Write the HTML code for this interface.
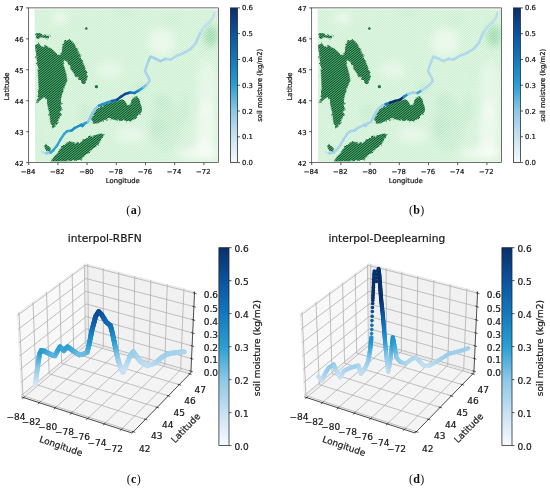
<!DOCTYPE html>
<html><head><meta charset="utf-8"><title>Figure</title><style>html,body{margin:0;padding:0;background:#fff}svg{display:block}</style></head><body>
<svg width="550" height="489" viewBox="0 0 550 489" font-family="DejaVu Sans, Liberation Sans, sans-serif" fill="#1a1a1a" stroke="#1a1a1a" stroke-width="0">
<defs>
<linearGradient id="cbg" x1="0" y1="1" x2="0" y2="0"><stop offset="0.0000" stop-color="#f7fbff"/><stop offset="0.1667" stop-color="#c8e1f2"/><stop offset="0.3333" stop-color="#8cc8e8"/><stop offset="0.5000" stop-color="#2b9fd3"/><stop offset="0.6667" stop-color="#1478be"/><stop offset="0.8333" stop-color="#0b539f"/><stop offset="1.0000" stop-color="#08306b"/></linearGradient>
<g id="hatchL" stroke="#ffffff" stroke-width="0.72" opacity="0.88"><path d="M80.70 -93.57L302.62 41.89M79.91 -92.28L301.83 43.18M79.12 -91.00L301.05 44.47M78.34 -89.71L300.26 45.76M77.55 -88.42L299.47 47.04M76.76 -87.13L298.69 48.33M75.98 -85.84L297.90 49.62M75.19 -84.55L297.11 50.91M74.40 -83.26L296.33 52.20M73.62 -81.97L295.54 53.49M72.83 -80.68L294.75 54.78M72.04 -79.40L293.97 56.07M71.26 -78.11L293.18 57.36M70.47 -76.82L292.39 58.64M69.68 -75.53L291.61 59.93M68.90 -74.24L290.82 61.22M68.11 -72.95L290.03 62.51M67.32 -71.66L289.25 63.80M66.54 -70.37L288.46 65.09M65.75 -69.08L287.67 66.38M64.96 -67.80L286.89 67.67M64.18 -66.51L286.10 68.96M63.39 -65.22L285.31 70.24M62.60 -63.93L284.53 71.53M61.82 -62.64L283.74 72.82M61.03 -61.35L282.95 74.11M60.24 -60.06L282.17 75.40M59.46 -58.77L281.38 76.69M58.67 -57.49L280.59 77.98M57.88 -56.20L279.80 79.27M57.09 -54.91L279.02 80.55M56.31 -53.62L278.23 81.84M55.52 -52.33L277.44 83.13M54.73 -51.04L276.66 84.42M53.95 -49.75L275.87 85.71M53.16 -48.46L275.08 87.00M52.37 -47.17L274.30 88.29M51.59 -45.89L273.51 89.58M50.80 -44.60L272.72 90.87M50.01 -43.31L271.94 92.15M49.23 -42.02L271.15 93.44M48.44 -40.73L270.36 94.73M47.65 -39.44L269.58 96.02M46.87 -38.15L268.79 97.31M46.08 -36.86L268.00 98.60M45.29 -35.57L267.22 99.89M44.51 -34.29L266.43 101.18M43.72 -33.00L265.64 102.47M42.93 -31.71L264.86 103.75M42.15 -30.42L264.07 105.04M41.36 -29.13L263.28 106.33M40.57 -27.84L262.50 107.62M39.79 -26.55L261.71 108.91M39.00 -25.26L260.92 110.20M38.21 -23.97L260.14 111.49M37.43 -22.69L259.35 112.78M36.64 -21.40L258.56 114.07M35.85 -20.11L257.78 115.35M35.07 -18.82L256.99 116.64M34.28 -17.53L256.20 117.93M33.49 -16.24L255.42 119.22M32.71 -14.95L254.63 120.51M31.92 -13.66L253.84 121.80M31.13 -12.38L253.06 123.09M30.35 -11.09L252.27 124.38M29.56 -9.80L251.48 125.67M28.77 -8.51L250.70 126.95M27.99 -7.22L249.91 128.24M27.20 -5.93L249.12 129.53M26.41 -4.64L248.34 130.82M25.63 -3.35L247.55 132.11M24.84 -2.06L246.76 133.40M24.05 -0.78L245.98 134.69M23.27 0.51L245.19 135.98M22.48 1.80L244.40 137.26M21.69 3.09L243.62 138.55M20.91 4.38L242.83 139.84M20.12 5.67L242.04 141.13M19.33 6.96L241.26 142.42M18.55 8.25L240.47 143.71M17.76 9.54L239.68 145.00M16.97 10.82L238.90 146.29M16.19 12.11L238.11 147.58M15.40 13.40L237.32 148.86M14.61 14.69L236.54 150.15M13.83 15.98L235.75 151.44M13.04 17.27L234.96 152.73M12.25 18.56L234.17 154.02M11.46 19.85L233.39 155.31M10.68 21.14L232.60 156.60M9.89 22.42L231.81 157.89M9.10 23.71L231.03 159.18M8.32 25.00L230.24 160.46M7.53 26.29L229.45 161.75M6.74 27.58L228.67 163.04M5.96 28.87L227.88 164.33M5.17 30.16L227.09 165.62M4.38 31.45L226.31 166.91M3.60 32.74L225.52 168.20M2.81 34.02L224.73 169.49M2.02 35.31L223.95 170.78M1.24 36.60L223.16 172.06M0.45 37.89L222.37 173.35M-0.34 39.18L221.59 174.64M-1.12 40.47L220.80 175.93M-1.91 41.76L220.01 177.22M-2.70 43.05L219.23 178.51M-3.48 44.33L218.44 179.80M-4.27 45.62L217.65 181.09M-5.06 46.91L216.87 182.38M-5.84 48.20L216.08 183.66M-6.63 49.49L215.29 184.95M-7.42 50.78L214.51 186.24M-8.20 52.07L213.72 187.53M-8.99 53.36L212.93 188.82M-9.78 54.65L212.15 190.11M-10.56 55.93L211.36 191.40M-11.35 57.22L210.57 192.69M-12.14 58.51L209.79 193.97M-12.92 59.80L209.00 195.26M-13.71 61.09L208.21 196.55M-14.50 62.38L207.43 197.84M-15.28 63.67L206.64 199.13M-16.07 64.96L205.85 200.42M-16.86 66.25L205.07 201.71M-17.64 67.53L204.28 203.00M-18.43 68.82L203.49 204.29M-19.22 70.11L202.71 205.57M-20.00 71.40L201.92 206.86M-20.79 72.69L201.13 208.15M-21.58 73.98L200.35 209.44M-22.36 75.27L199.56 210.73M-23.15 76.56L198.77 212.02M-23.94 77.85L197.99 213.31M-24.72 79.13L197.20 214.60M-25.51 80.42L196.41 215.89M-26.30 81.71L195.63 217.17M-27.08 83.00L194.84 218.46M-27.87 84.29L194.05 219.75M-28.66 85.58L193.27 221.04M-29.44 86.87L192.48 222.33M-30.23 88.16L191.69 223.62M-31.02 89.45L190.91 224.91M-31.80 90.73L190.12 226.20M-32.59 92.02L189.33 227.49M-33.38 93.31L188.54 228.77M-34.17 94.60L187.76 230.06M-34.95 95.89L186.97 231.35M-35.74 97.18L186.18 232.64M-36.53 98.47L185.40 233.93M-37.31 99.76L184.61 235.22M-38.10 101.04L183.82 236.51M-38.89 102.33L183.04 237.80M-39.67 103.62L182.25 239.08M-40.46 104.91L181.46 240.37M-41.25 106.20L180.68 241.66M-42.03 107.49L179.89 242.95M-42.82 108.78L179.10 244.24M-43.61 110.07L178.32 245.53M-44.39 111.36L177.53 246.82M-45.18 112.64L176.74 248.11M-45.97 113.93L175.96 249.40M-46.75 115.22L175.17 250.68M-47.54 116.51L174.38 251.97M-48.33 117.80L173.60 253.26M-49.11 119.09L172.81 254.55M-49.90 120.38L172.02 255.84M-50.69 121.67L171.24 257.13M-51.47 122.96L170.45 258.42M-52.26 124.24L169.66 259.71M-53.05 125.53L168.88 261.00M-53.83 126.82L168.09 262.28M-54.62 128.11L167.30 263.57" fill="none"/></g>
<g id="hatchD" stroke="#043d18" stroke-width="0.9" opacity="1"><path d="M80.70 -93.57L302.62 41.89M79.91 -92.28L301.83 43.18M79.12 -91.00L301.05 44.47M78.34 -89.71L300.26 45.76M77.55 -88.42L299.47 47.04M76.76 -87.13L298.69 48.33M75.98 -85.84L297.90 49.62M75.19 -84.55L297.11 50.91M74.40 -83.26L296.33 52.20M73.62 -81.97L295.54 53.49M72.83 -80.68L294.75 54.78M72.04 -79.40L293.97 56.07M71.26 -78.11L293.18 57.36M70.47 -76.82L292.39 58.64M69.68 -75.53L291.61 59.93M68.90 -74.24L290.82 61.22M68.11 -72.95L290.03 62.51M67.32 -71.66L289.25 63.80M66.54 -70.37L288.46 65.09M65.75 -69.08L287.67 66.38M64.96 -67.80L286.89 67.67M64.18 -66.51L286.10 68.96M63.39 -65.22L285.31 70.24M62.60 -63.93L284.53 71.53M61.82 -62.64L283.74 72.82M61.03 -61.35L282.95 74.11M60.24 -60.06L282.17 75.40M59.46 -58.77L281.38 76.69M58.67 -57.49L280.59 77.98M57.88 -56.20L279.80 79.27M57.09 -54.91L279.02 80.55M56.31 -53.62L278.23 81.84M55.52 -52.33L277.44 83.13M54.73 -51.04L276.66 84.42M53.95 -49.75L275.87 85.71M53.16 -48.46L275.08 87.00M52.37 -47.17L274.30 88.29M51.59 -45.89L273.51 89.58M50.80 -44.60L272.72 90.87M50.01 -43.31L271.94 92.15M49.23 -42.02L271.15 93.44M48.44 -40.73L270.36 94.73M47.65 -39.44L269.58 96.02M46.87 -38.15L268.79 97.31M46.08 -36.86L268.00 98.60M45.29 -35.57L267.22 99.89M44.51 -34.29L266.43 101.18M43.72 -33.00L265.64 102.47M42.93 -31.71L264.86 103.75M42.15 -30.42L264.07 105.04M41.36 -29.13L263.28 106.33M40.57 -27.84L262.50 107.62M39.79 -26.55L261.71 108.91M39.00 -25.26L260.92 110.20M38.21 -23.97L260.14 111.49M37.43 -22.69L259.35 112.78M36.64 -21.40L258.56 114.07M35.85 -20.11L257.78 115.35M35.07 -18.82L256.99 116.64M34.28 -17.53L256.20 117.93M33.49 -16.24L255.42 119.22M32.71 -14.95L254.63 120.51M31.92 -13.66L253.84 121.80M31.13 -12.38L253.06 123.09M30.35 -11.09L252.27 124.38M29.56 -9.80L251.48 125.67M28.77 -8.51L250.70 126.95M27.99 -7.22L249.91 128.24M27.20 -5.93L249.12 129.53M26.41 -4.64L248.34 130.82M25.63 -3.35L247.55 132.11M24.84 -2.06L246.76 133.40M24.05 -0.78L245.98 134.69M23.27 0.51L245.19 135.98M22.48 1.80L244.40 137.26M21.69 3.09L243.62 138.55M20.91 4.38L242.83 139.84M20.12 5.67L242.04 141.13M19.33 6.96L241.26 142.42M18.55 8.25L240.47 143.71M17.76 9.54L239.68 145.00M16.97 10.82L238.90 146.29M16.19 12.11L238.11 147.58M15.40 13.40L237.32 148.86M14.61 14.69L236.54 150.15M13.83 15.98L235.75 151.44M13.04 17.27L234.96 152.73M12.25 18.56L234.17 154.02M11.46 19.85L233.39 155.31M10.68 21.14L232.60 156.60M9.89 22.42L231.81 157.89M9.10 23.71L231.03 159.18M8.32 25.00L230.24 160.46M7.53 26.29L229.45 161.75M6.74 27.58L228.67 163.04M5.96 28.87L227.88 164.33M5.17 30.16L227.09 165.62M4.38 31.45L226.31 166.91M3.60 32.74L225.52 168.20M2.81 34.02L224.73 169.49M2.02 35.31L223.95 170.78M1.24 36.60L223.16 172.06M0.45 37.89L222.37 173.35M-0.34 39.18L221.59 174.64M-1.12 40.47L220.80 175.93M-1.91 41.76L220.01 177.22M-2.70 43.05L219.23 178.51M-3.48 44.33L218.44 179.80M-4.27 45.62L217.65 181.09M-5.06 46.91L216.87 182.38M-5.84 48.20L216.08 183.66M-6.63 49.49L215.29 184.95M-7.42 50.78L214.51 186.24M-8.20 52.07L213.72 187.53M-8.99 53.36L212.93 188.82M-9.78 54.65L212.15 190.11M-10.56 55.93L211.36 191.40M-11.35 57.22L210.57 192.69M-12.14 58.51L209.79 193.97M-12.92 59.80L209.00 195.26M-13.71 61.09L208.21 196.55M-14.50 62.38L207.43 197.84M-15.28 63.67L206.64 199.13M-16.07 64.96L205.85 200.42M-16.86 66.25L205.07 201.71M-17.64 67.53L204.28 203.00M-18.43 68.82L203.49 204.29M-19.22 70.11L202.71 205.57M-20.00 71.40L201.92 206.86M-20.79 72.69L201.13 208.15M-21.58 73.98L200.35 209.44M-22.36 75.27L199.56 210.73M-23.15 76.56L198.77 212.02M-23.94 77.85L197.99 213.31M-24.72 79.13L197.20 214.60M-25.51 80.42L196.41 215.89M-26.30 81.71L195.63 217.17M-27.08 83.00L194.84 218.46M-27.87 84.29L194.05 219.75M-28.66 85.58L193.27 221.04M-29.44 86.87L192.48 222.33M-30.23 88.16L191.69 223.62M-31.02 89.45L190.91 224.91M-31.80 90.73L190.12 226.20M-32.59 92.02L189.33 227.49M-33.38 93.31L188.54 228.77M-34.17 94.60L187.76 230.06M-34.95 95.89L186.97 231.35M-35.74 97.18L186.18 232.64M-36.53 98.47L185.40 233.93M-37.31 99.76L184.61 235.22M-38.10 101.04L183.82 236.51M-38.89 102.33L183.04 237.80M-39.67 103.62L182.25 239.08M-40.46 104.91L181.46 240.37M-41.25 106.20L180.68 241.66M-42.03 107.49L179.89 242.95M-42.82 108.78L179.10 244.24M-43.61 110.07L178.32 245.53M-44.39 111.36L177.53 246.82M-45.18 112.64L176.74 248.11M-45.97 113.93L175.96 249.40M-46.75 115.22L175.17 250.68M-47.54 116.51L174.38 251.97M-48.33 117.80L173.60 253.26M-49.11 119.09L172.81 254.55M-49.90 120.38L172.02 255.84M-50.69 121.67L171.24 257.13M-51.47 122.96L170.45 258.42M-52.26 124.24L169.66 259.71M-53.05 125.53L168.88 261.00M-53.83 126.82L168.09 262.28M-54.62 128.11L167.30 263.57" fill="none"/></g>
<filter id="rough" x="0" y="0" width="100%" height="100%" filterUnits="objectBoundingBox"><feTurbulence type="fractalNoise" baseFrequency="0.35" numOctaves="2" seed="7" result="n"/><feDisplacementMap in="SourceGraphic" in2="n" scale="3.2" xChannelSelector="R" yChannelSelector="G"/></filter>
<filter id="blur4" x="-50%" y="-50%" width="200%" height="200%"><feGaussianBlur stdDeviation="3.5"/></filter>
</defs>
<rect width="550" height="489" fill="#fff"/>
<g transform="translate(0,0)">
<clipPath id="clipa"><rect x="28.70" y="7.90" width="189.80" height="154.70"/></clipPath>
<g clip-path="url(#clipa)">
<clipPath id="dra"><polygon points="34.7,9.4 217.9,9.4 217.9,161.6 35.3,161.6"/></clipPath>
<g clip-path="url(#dra)">
<rect x="30" y="8" width="190" height="155" fill="#c2edc8"/>
<g filter="url(#blur4)">
<ellipse cx="211" cy="36" rx="7" ry="11" fill="#6fc98a" opacity="0.85"/>
<ellipse cx="124" cy="13" rx="11" ry="4.5" fill="#b5e6bd" opacity="0.8"/>
<ellipse cx="162" cy="42" rx="14" ry="14" fill="#f4fbf3" opacity="0.55"/>
<ellipse cx="207" cy="90" rx="10" ry="30" fill="#f0faef" opacity="0.5"/>
<ellipse cx="75" cy="25" rx="10" ry="8" fill="#c0eac8" opacity="0.7"/>
<ellipse cx="140" cy="88" rx="7" ry="5" fill="#a5dfb2" opacity="0.7"/>
<ellipse cx="180" cy="140" rx="25" ry="12" fill="#c8ecce" opacity="0.6"/>
<ellipse cx="205" cy="150" rx="12" ry="10" fill="#f4fbf3" opacity="0.6"/>
<ellipse cx="60" cy="18" rx="8" ry="6" fill="#e8f7e8" opacity="0.8"/>
<ellipse cx="110" cy="70" rx="12" ry="8" fill="#e4f6e4" opacity="0.7"/>
<ellipse cx="40" cy="140" rx="5" ry="15" fill="#c0eac8" opacity="0.7"/>
<ellipse cx="150" cy="125" rx="10" ry="25" fill="#c5ebcb" opacity="0.6"/>
<ellipse cx="190" cy="70" rx="6" ry="10" fill="#bfe9c6" opacity="0.6"/>
<ellipse cx="130" cy="135" rx="15" ry="8" fill="#e4f6e4" opacity="0.7"/>
<ellipse cx="206" cy="128" rx="10" ry="28" fill="#f6fcf5" opacity="0.6"/>
<ellipse cx="198" cy="154" rx="22" ry="6" fill="#f6fcf5" opacity="0.6"/>
<ellipse cx="158" cy="128" rx="7" ry="9" fill="#9fddb0" opacity="0.7"/>
<ellipse cx="184.5" cy="108" rx="1.6" ry="15" fill="#93d8a7" opacity="0.8"/>
<ellipse cx="160" cy="100" rx="9" ry="7" fill="#a8e0b6" opacity="0.6"/>
<ellipse cx="172" cy="20" rx="10" ry="7" fill="#b4e6bf" opacity="0.5"/>
<ellipse cx="165" cy="125" rx="16" ry="26" fill="#a5e0b3" opacity="0.5"/>
<ellipse cx="85" cy="113" rx="7" ry="10" fill="#a5e0b3" opacity="0.5"/>
</g>
<use href="#hatchL"/>
<mask id="lka" maskUnits="userSpaceOnUse" x="28" y="7" width="192" height="157"><g filter="url(#rough)"><polygon points="35.3,45.3 38.9,43.5 41.6,47.1 45.3,45.3 48.0,47.1 51.6,48.9 55.3,52.5 58.9,55.3 61.6,54.4 62.5,47.1 64.4,41.6 68.0,39.8 72.5,41.6 76.2,47.1 78.9,52.5 81.6,59.8 84.4,66.2 86.2,71.6 87.1,77.1 86.2,82.5 82.5,83.5 78.9,79.8 75.3,75.3 71.6,69.8 68.9,65.3 67.1,60.7 64.4,59.8 62.5,62.5 64.4,68.0 66.2,74.4 67.1,80.7 65.3,84.5 62.5,91.8 60.7,99.1 61.6,106.4 60.7,113.6 58.0,120.9 55.3,126.4 52.5,128.2 50.7,122.7 49.8,115.5 48.0,106.4 46.2,99.1 43.5,97.3 38.9,100.9 36.6,103.2 37.6,98.0 39.0,91.0 38.6,82.0 38.0,70.5 37.2,62.0 36.5,55.0 35.6,49.0" fill="#fff" stroke="#fff" stroke-width="0.5"/><polygon points="35.6,33.8 38.9,33.1 42.5,34.4 46.2,34.9 50.2,36.2 49.8,38.0 45.3,38.0 40.7,37.1 38.0,38.9 35.6,37.1" fill="#fff" stroke="#fff" stroke-width="0.5"/><polygon points="50.7,161.6 54.4,156.4 58.0,152.7 61.6,147.3 65.3,143.6 69.8,141.8 75.3,142.7 79.8,143.6 82.5,140.0 88.0,137.3 95.3,135.5 100.7,133.6 103.5,134.5 102.5,138.2 99.8,141.8 96.2,145.5 92.5,149.1 88.9,152.7 84.4,155.5 82.5,159.1 77.1,160.5 64.4,161.6" fill="#fff" stroke="#fff" stroke-width="0.5"/><polygon points="90.9,120.9 92.4,116.5 95.3,111.8 98.9,107.6 102.5,105.4 106.9,103.9 112.0,102.3 117.1,101.2 122.2,99.6 125.1,101.5 127.3,105.6 130.2,104.9 131.6,101.3 133.8,97.6 136.7,96.2 138.9,99.1 140.4,103.5 141.8,108.5 141.1,112.2 138.2,115.8 134.5,118.7 131.6,121.6 128.7,121.6 124.4,120.2 119.3,120.9 114.2,119.5 109.8,118.7 105.5,119.5 101.1,121.6 96.7,123.1 93.1,123.5" fill="#fff" stroke="#fff" stroke-width="0.5"/><polygon points="44.4,145.5 46.2,144.2 48.0,146.4 50.7,148.2 49.8,151.5 47.1,150.9 45.3,148.7" fill="#fff" stroke="#fff" stroke-width="0.5"/></g></mask>
<g mask="url(#lka)"><rect x="28" y="7" width="192" height="157" fill="#5cc084"/><use href="#hatchD"/></g>
<circle cx="86.3" cy="28.5" r="1.3" fill="#157a3c"/>
<circle cx="96.4" cy="86.7" r="1.6" fill="#157a3c"/>
</g>
<line x1="42.5" y1="152.2" x2="46.2" y2="153.3" stroke="#bcdcf0" stroke-width="2.5" stroke-linecap="round"/>
<line x1="46.2" y1="153.3" x2="50.7" y2="152.7" stroke="#8cc8e8" stroke-width="2.5" stroke-linecap="round"/>
<line x1="50.7" y1="152.7" x2="53.5" y2="150.0" stroke="#35a3d5" stroke-width="2.5" stroke-linecap="round"/>
<line x1="53.5" y1="150.0" x2="57.1" y2="145.5" stroke="#35a3d5" stroke-width="2.5" stroke-linecap="round"/>
<line x1="57.1" y1="145.5" x2="60.7" y2="139.1" stroke="#35a3d5" stroke-width="2.5" stroke-linecap="round"/>
<line x1="60.7" y1="139.1" x2="64.4" y2="133.6" stroke="#35a3d5" stroke-width="2.5" stroke-linecap="round"/>
<line x1="64.4" y1="133.6" x2="67.1" y2="131.3" stroke="#35a3d5" stroke-width="2.5" stroke-linecap="round"/>
<line x1="67.1" y1="131.3" x2="71.6" y2="130.5" stroke="#35a3d5" stroke-width="2.5" stroke-linecap="round"/>
<line x1="71.6" y1="130.5" x2="74.4" y2="128.2" stroke="#208cc8" stroke-width="2.5" stroke-linecap="round"/>
<line x1="74.4" y1="128.2" x2="79.8" y2="125.5" stroke="#208cc8" stroke-width="2.5" stroke-linecap="round"/>
<line x1="79.8" y1="125.5" x2="81.6" y2="124.5" stroke="#208cc8" stroke-width="2.5" stroke-linecap="round"/>
<line x1="81.6" y1="124.5" x2="82.5" y2="126.0" stroke="#208cc8" stroke-width="2.5" stroke-linecap="round"/>
<line x1="82.5" y1="126.0" x2="84.4" y2="123.6" stroke="#208cc8" stroke-width="2.5" stroke-linecap="round"/>
<line x1="84.4" y1="123.6" x2="88.0" y2="121.8" stroke="#2b9fd3" stroke-width="2.5" stroke-linecap="round"/>
<line x1="88.0" y1="121.8" x2="90.2" y2="117.5" stroke="#8cc8e8" stroke-width="2.5" stroke-linecap="round"/>
<line x1="90.2" y1="117.5" x2="92.4" y2="112.8" stroke="#8cc8e8" stroke-width="2.5" stroke-linecap="round"/>
<line x1="92.4" y1="112.8" x2="95.3" y2="108.8" stroke="#8cc8e8" stroke-width="2.5" stroke-linecap="round"/>
<line x1="95.3" y1="108.8" x2="98.9" y2="105.6" stroke="#8cc8e8" stroke-width="2.5" stroke-linecap="round"/>
<line x1="98.9" y1="105.6" x2="102.5" y2="104.2" stroke="#2493cd" stroke-width="2.5" stroke-linecap="round"/>
<line x1="102.5" y1="104.2" x2="106.9" y2="102.7" stroke="#2493cd" stroke-width="2.5" stroke-linecap="round"/>
<line x1="106.9" y1="102.7" x2="112.0" y2="101.0" stroke="#2493cd" stroke-width="2.5" stroke-linecap="round"/>
<line x1="112.0" y1="101.0" x2="117.1" y2="99.8" stroke="#1066ae" stroke-width="2.5" stroke-linecap="round"/>
<line x1="117.1" y1="99.8" x2="120.7" y2="96.9" stroke="#0a488f" stroke-width="2.5" stroke-linecap="round"/>
<line x1="120.7" y1="96.9" x2="125.1" y2="94.0" stroke="#0a488f" stroke-width="2.5" stroke-linecap="round"/>
<line x1="125.1" y1="94.0" x2="130.2" y2="92.5" stroke="#0a488f" stroke-width="2.5" stroke-linecap="round"/>
<line x1="130.2" y1="92.5" x2="134.5" y2="93.0" stroke="#1478be" stroke-width="2.5" stroke-linecap="round"/>
<line x1="134.5" y1="93.0" x2="138.9" y2="90.4" stroke="#1478be" stroke-width="2.5" stroke-linecap="round"/>
<line x1="138.9" y1="90.4" x2="143.3" y2="87.5" stroke="#2b9fd3" stroke-width="2.5" stroke-linecap="round"/>
<line x1="143.3" y1="87.5" x2="146.9" y2="84.5" stroke="#79c0e4" stroke-width="2.5" stroke-linecap="round"/>
<line x1="146.9" y1="84.5" x2="149.8" y2="80.9" stroke="#aad4ed" stroke-width="2.5" stroke-linecap="round"/>
<line x1="149.8" y1="80.9" x2="148.4" y2="77.3" stroke="#aad4ed" stroke-width="2.5" stroke-linecap="round"/>
<line x1="148.4" y1="77.3" x2="146.2" y2="73.6" stroke="#aad4ed" stroke-width="2.5" stroke-linecap="round"/>
<line x1="146.2" y1="73.6" x2="145.0" y2="71.0" stroke="#aad4ed" stroke-width="2.5" stroke-linecap="round"/>
<line x1="145.0" y1="71.0" x2="146.5" y2="66.2" stroke="#aad4ed" stroke-width="2.5" stroke-linecap="round"/>
<line x1="146.5" y1="66.2" x2="148.7" y2="60.4" stroke="#aad4ed" stroke-width="2.5" stroke-linecap="round"/>
<line x1="148.7" y1="60.4" x2="150.5" y2="56.7" stroke="#9ed0eb" stroke-width="2.5" stroke-linecap="round"/>
<line x1="150.5" y1="56.7" x2="154.5" y2="58.2" stroke="#9ed0eb" stroke-width="2.5" stroke-linecap="round"/>
<line x1="154.5" y1="58.2" x2="160.4" y2="61.1" stroke="#9ed0eb" stroke-width="2.5" stroke-linecap="round"/>
<line x1="160.4" y1="61.1" x2="165.5" y2="58.9" stroke="#9ed0eb" stroke-width="2.5" stroke-linecap="round"/>
<line x1="165.5" y1="58.9" x2="170.5" y2="59.6" stroke="#b0d7ee" stroke-width="2.5" stroke-linecap="round"/>
<line x1="170.5" y1="59.6" x2="176.4" y2="56.0" stroke="#b0d7ee" stroke-width="2.5" stroke-linecap="round"/>
<line x1="176.4" y1="56.0" x2="183.6" y2="53.1" stroke="#b0d7ee" stroke-width="2.5" stroke-linecap="round"/>
<line x1="183.6" y1="53.1" x2="190.9" y2="48.7" stroke="#b0d7ee" stroke-width="2.5" stroke-linecap="round"/>
<line x1="190.9" y1="48.7" x2="196.0" y2="42.9" stroke="#b0d7ee" stroke-width="2.5" stroke-linecap="round"/>
<line x1="196.0" y1="42.9" x2="198.2" y2="37.1" stroke="#b0d7ee" stroke-width="2.5" stroke-linecap="round"/>
<line x1="198.2" y1="37.1" x2="201.1" y2="31.3" stroke="#b0d7ee" stroke-width="2.5" stroke-linecap="round"/>
<line x1="201.1" y1="31.3" x2="204.0" y2="26.9" stroke="#c2def1" stroke-width="2.5" stroke-linecap="round"/>
<line x1="204.0" y1="26.9" x2="209.1" y2="22.5" stroke="#c2def1" stroke-width="2.5" stroke-linecap="round"/>
<line x1="209.1" y1="22.5" x2="212.7" y2="18.2" stroke="#c2def1" stroke-width="2.5" stroke-linecap="round"/>
<line x1="212.7" y1="18.2" x2="214.5" y2="13.1" stroke="#c2def1" stroke-width="2.5" stroke-linecap="round"/>
</g>
<rect x="28.70" y="7.90" width="189.80" height="154.70" fill="none" stroke="#222" stroke-width="0.65"/>
<line x1="28.70" y1="162.60" x2="28.70" y2="165.10" stroke="#111" stroke-width="0.7"/>
<text stroke-width="0.22" x="28.10" y="173.80" font-size="6.85" text-anchor="middle" >−84</text>
<line x1="57.90" y1="162.60" x2="57.90" y2="165.10" stroke="#111" stroke-width="0.7"/>
<text stroke-width="0.22" x="57.30" y="173.80" font-size="6.85" text-anchor="middle" >−82</text>
<line x1="87.10" y1="162.60" x2="87.10" y2="165.10" stroke="#111" stroke-width="0.7"/>
<text stroke-width="0.22" x="86.50" y="173.80" font-size="6.85" text-anchor="middle" >−80</text>
<line x1="116.30" y1="162.60" x2="116.30" y2="165.10" stroke="#111" stroke-width="0.7"/>
<text stroke-width="0.22" x="115.70" y="173.80" font-size="6.85" text-anchor="middle" >−78</text>
<line x1="145.50" y1="162.60" x2="145.50" y2="165.10" stroke="#111" stroke-width="0.7"/>
<text stroke-width="0.22" x="144.90" y="173.80" font-size="6.85" text-anchor="middle" >−76</text>
<line x1="174.70" y1="162.60" x2="174.70" y2="165.10" stroke="#111" stroke-width="0.7"/>
<text stroke-width="0.22" x="174.10" y="173.80" font-size="6.85" text-anchor="middle" >−74</text>
<line x1="203.90" y1="162.60" x2="203.90" y2="165.10" stroke="#111" stroke-width="0.7"/>
<text stroke-width="0.22" x="203.30" y="173.80" font-size="6.85" text-anchor="middle" >−72</text>
<line x1="26.20" y1="162.60" x2="28.70" y2="162.60" stroke="#111" stroke-width="0.7"/>
<text stroke-width="0.22" x="23.50" y="165.63" font-size="6.85" text-anchor="end" >42</text>
<line x1="26.20" y1="131.66" x2="28.70" y2="131.66" stroke="#111" stroke-width="0.7"/>
<text stroke-width="0.22" x="23.50" y="134.69" font-size="6.85" text-anchor="end" >43</text>
<line x1="26.20" y1="100.72" x2="28.70" y2="100.72" stroke="#111" stroke-width="0.7"/>
<text stroke-width="0.22" x="23.50" y="103.75" font-size="6.85" text-anchor="end" >44</text>
<line x1="26.20" y1="69.78" x2="28.70" y2="69.78" stroke="#111" stroke-width="0.7"/>
<text stroke-width="0.22" x="23.50" y="72.81" font-size="6.85" text-anchor="end" >45</text>
<line x1="26.20" y1="38.84" x2="28.70" y2="38.84" stroke="#111" stroke-width="0.7"/>
<text stroke-width="0.22" x="23.50" y="41.87" font-size="6.85" text-anchor="end" >46</text>
<line x1="26.20" y1="7.90" x2="28.70" y2="7.90" stroke="#111" stroke-width="0.7"/>
<text stroke-width="0.22" x="23.50" y="10.93" font-size="6.85" text-anchor="end" >47</text>
<text stroke-width="0.22" x="122.80" y="182.70" font-size="6.85" text-anchor="middle" >Longitude</text>
<text stroke-width="0.22" x="9.40" y="86.55" font-size="6.85" text-anchor="middle" transform="rotate(-90 9.40 86.55)" >Latitude</text>
<rect x="230.40" y="7.90" width="7.10" height="154.70" fill="url(#cbg)" stroke="#222" stroke-width="0.75"/>
<line x1="237.50" y1="162.60" x2="240.00" y2="162.60" stroke="#111" stroke-width="0.7"/>
<text stroke-width="0.22" x="242.10" y="165.13" font-size="6.85" text-anchor="start" >0.0</text>
<line x1="237.50" y1="136.82" x2="240.00" y2="136.82" stroke="#111" stroke-width="0.7"/>
<text stroke-width="0.22" x="242.10" y="139.35" font-size="6.85" text-anchor="start" >0.1</text>
<line x1="237.50" y1="111.03" x2="240.00" y2="111.03" stroke="#111" stroke-width="0.7"/>
<text stroke-width="0.22" x="242.10" y="113.57" font-size="6.85" text-anchor="start" >0.2</text>
<line x1="237.50" y1="85.25" x2="240.00" y2="85.25" stroke="#111" stroke-width="0.7"/>
<text stroke-width="0.22" x="242.10" y="87.78" font-size="6.85" text-anchor="start" >0.3</text>
<line x1="237.50" y1="59.47" x2="240.00" y2="59.47" stroke="#111" stroke-width="0.7"/>
<text stroke-width="0.22" x="242.10" y="62.00" font-size="6.85" text-anchor="start" >0.4</text>
<line x1="237.50" y1="33.68" x2="240.00" y2="33.68" stroke="#111" stroke-width="0.7"/>
<text stroke-width="0.22" x="242.10" y="36.22" font-size="6.85" text-anchor="start" >0.5</text>
<line x1="237.50" y1="7.90" x2="240.00" y2="7.90" stroke="#111" stroke-width="0.7"/>
<text stroke-width="0.22" x="242.10" y="10.43" font-size="6.85" text-anchor="start" >0.6</text>
<text stroke-width="0.22" x="262.00" y="85.25" font-size="6.85" text-anchor="middle" transform="rotate(-90 262.00 85.25)" >soil moisture (kg/m2)</text>
</g>
<g transform="translate(283,0)">
<clipPath id="clipb"><rect x="28.70" y="7.90" width="189.80" height="154.70"/></clipPath>
<g clip-path="url(#clipb)">
<clipPath id="drb"><polygon points="34.7,9.4 217.9,9.4 217.9,161.6 35.3,161.6"/></clipPath>
<g clip-path="url(#drb)">
<rect x="30" y="8" width="190" height="155" fill="#c2edc8"/>
<g filter="url(#blur4)">
<ellipse cx="211" cy="36" rx="7" ry="11" fill="#6fc98a" opacity="0.85"/>
<ellipse cx="124" cy="13" rx="11" ry="4.5" fill="#b5e6bd" opacity="0.8"/>
<ellipse cx="162" cy="42" rx="14" ry="14" fill="#f4fbf3" opacity="0.55"/>
<ellipse cx="207" cy="90" rx="10" ry="30" fill="#f0faef" opacity="0.5"/>
<ellipse cx="75" cy="25" rx="10" ry="8" fill="#c0eac8" opacity="0.7"/>
<ellipse cx="140" cy="88" rx="7" ry="5" fill="#a5dfb2" opacity="0.7"/>
<ellipse cx="180" cy="140" rx="25" ry="12" fill="#c8ecce" opacity="0.6"/>
<ellipse cx="205" cy="150" rx="12" ry="10" fill="#f4fbf3" opacity="0.6"/>
<ellipse cx="60" cy="18" rx="8" ry="6" fill="#e8f7e8" opacity="0.8"/>
<ellipse cx="110" cy="70" rx="12" ry="8" fill="#e4f6e4" opacity="0.7"/>
<ellipse cx="40" cy="140" rx="5" ry="15" fill="#c0eac8" opacity="0.7"/>
<ellipse cx="150" cy="125" rx="10" ry="25" fill="#c5ebcb" opacity="0.6"/>
<ellipse cx="190" cy="70" rx="6" ry="10" fill="#bfe9c6" opacity="0.6"/>
<ellipse cx="130" cy="135" rx="15" ry="8" fill="#e4f6e4" opacity="0.7"/>
<ellipse cx="206" cy="128" rx="10" ry="28" fill="#f6fcf5" opacity="0.6"/>
<ellipse cx="198" cy="154" rx="22" ry="6" fill="#f6fcf5" opacity="0.6"/>
<ellipse cx="158" cy="128" rx="7" ry="9" fill="#9fddb0" opacity="0.7"/>
<ellipse cx="184.5" cy="108" rx="1.6" ry="15" fill="#93d8a7" opacity="0.8"/>
<ellipse cx="160" cy="100" rx="9" ry="7" fill="#a8e0b6" opacity="0.6"/>
<ellipse cx="172" cy="20" rx="10" ry="7" fill="#b4e6bf" opacity="0.5"/>
<ellipse cx="165" cy="125" rx="16" ry="26" fill="#a5e0b3" opacity="0.5"/>
<ellipse cx="85" cy="113" rx="7" ry="10" fill="#a5e0b3" opacity="0.5"/>
</g>
<use href="#hatchL"/>
<mask id="lkb" maskUnits="userSpaceOnUse" x="28" y="7" width="192" height="157"><g filter="url(#rough)"><polygon points="35.3,45.3 38.9,43.5 41.6,47.1 45.3,45.3 48.0,47.1 51.6,48.9 55.3,52.5 58.9,55.3 61.6,54.4 62.5,47.1 64.4,41.6 68.0,39.8 72.5,41.6 76.2,47.1 78.9,52.5 81.6,59.8 84.4,66.2 86.2,71.6 87.1,77.1 86.2,82.5 82.5,83.5 78.9,79.8 75.3,75.3 71.6,69.8 68.9,65.3 67.1,60.7 64.4,59.8 62.5,62.5 64.4,68.0 66.2,74.4 67.1,80.7 65.3,84.5 62.5,91.8 60.7,99.1 61.6,106.4 60.7,113.6 58.0,120.9 55.3,126.4 52.5,128.2 50.7,122.7 49.8,115.5 48.0,106.4 46.2,99.1 43.5,97.3 38.9,100.9 36.6,103.2 37.6,98.0 39.0,91.0 38.6,82.0 38.0,70.5 37.2,62.0 36.5,55.0 35.6,49.0" fill="#fff" stroke="#fff" stroke-width="0.5"/><polygon points="35.6,33.8 38.9,33.1 42.5,34.4 46.2,34.9 50.2,36.2 49.8,38.0 45.3,38.0 40.7,37.1 38.0,38.9 35.6,37.1" fill="#fff" stroke="#fff" stroke-width="0.5"/><polygon points="50.7,161.6 54.4,156.4 58.0,152.7 61.6,147.3 65.3,143.6 69.8,141.8 75.3,142.7 79.8,143.6 82.5,140.0 88.0,137.3 95.3,135.5 100.7,133.6 103.5,134.5 102.5,138.2 99.8,141.8 96.2,145.5 92.5,149.1 88.9,152.7 84.4,155.5 82.5,159.1 77.1,160.5 64.4,161.6" fill="#fff" stroke="#fff" stroke-width="0.5"/><polygon points="90.9,120.9 92.4,116.5 95.3,111.8 98.9,107.6 102.5,105.4 106.9,103.9 112.0,102.3 117.1,101.2 122.2,99.6 125.1,101.5 127.3,105.6 130.2,104.9 131.6,101.3 133.8,97.6 136.7,96.2 138.9,99.1 140.4,103.5 141.8,108.5 141.1,112.2 138.2,115.8 134.5,118.7 131.6,121.6 128.7,121.6 124.4,120.2 119.3,120.9 114.2,119.5 109.8,118.7 105.5,119.5 101.1,121.6 96.7,123.1 93.1,123.5" fill="#fff" stroke="#fff" stroke-width="0.5"/><polygon points="44.4,145.5 46.2,144.2 48.0,146.4 50.7,148.2 49.8,151.5 47.1,150.9 45.3,148.7" fill="#fff" stroke="#fff" stroke-width="0.5"/></g></mask>
<g mask="url(#lkb)"><rect x="28" y="7" width="192" height="157" fill="#5cc084"/><use href="#hatchD"/></g>
<circle cx="86.3" cy="28.5" r="1.3" fill="#157a3c"/>
<circle cx="96.4" cy="86.7" r="1.6" fill="#157a3c"/>
</g>
<line x1="42.5" y1="152.2" x2="46.2" y2="153.3" stroke="#c8e1f2" stroke-width="2.5" stroke-linecap="round"/>
<line x1="46.2" y1="153.3" x2="50.7" y2="152.7" stroke="#a7d3ec" stroke-width="2.5" stroke-linecap="round"/>
<line x1="50.7" y1="152.7" x2="53.5" y2="150.0" stroke="#a7d3ec" stroke-width="2.5" stroke-linecap="round"/>
<line x1="53.5" y1="150.0" x2="57.1" y2="145.5" stroke="#a7d3ec" stroke-width="2.5" stroke-linecap="round"/>
<line x1="57.1" y1="145.5" x2="60.7" y2="139.1" stroke="#a7d3ec" stroke-width="2.5" stroke-linecap="round"/>
<line x1="60.7" y1="139.1" x2="64.4" y2="133.6" stroke="#a7d3ec" stroke-width="2.5" stroke-linecap="round"/>
<line x1="64.4" y1="133.6" x2="67.1" y2="131.3" stroke="#a7d3ec" stroke-width="2.5" stroke-linecap="round"/>
<line x1="67.1" y1="131.3" x2="71.6" y2="130.5" stroke="#a7d3ec" stroke-width="2.5" stroke-linecap="round"/>
<line x1="71.6" y1="130.5" x2="74.4" y2="128.2" stroke="#a7d3ec" stroke-width="2.5" stroke-linecap="round"/>
<line x1="74.4" y1="128.2" x2="79.8" y2="125.5" stroke="#a7d3ec" stroke-width="2.5" stroke-linecap="round"/>
<line x1="79.8" y1="125.5" x2="81.6" y2="124.5" stroke="#a7d3ec" stroke-width="2.5" stroke-linecap="round"/>
<line x1="81.6" y1="124.5" x2="82.5" y2="126.0" stroke="#a7d3ec" stroke-width="2.5" stroke-linecap="round"/>
<line x1="82.5" y1="126.0" x2="84.4" y2="123.6" stroke="#a7d3ec" stroke-width="2.5" stroke-linecap="round"/>
<line x1="84.4" y1="123.6" x2="88.0" y2="121.8" stroke="#a7d3ec" stroke-width="2.5" stroke-linecap="round"/>
<line x1="88.0" y1="121.8" x2="90.2" y2="117.5" stroke="#a7d3ec" stroke-width="2.5" stroke-linecap="round"/>
<line x1="90.2" y1="117.5" x2="92.4" y2="112.8" stroke="#a7d3ec" stroke-width="2.5" stroke-linecap="round"/>
<line x1="92.4" y1="112.8" x2="95.3" y2="108.8" stroke="#a7d3ec" stroke-width="2.5" stroke-linecap="round"/>
<line x1="95.3" y1="108.8" x2="98.9" y2="105.6" stroke="#a7d3ec" stroke-width="2.5" stroke-linecap="round"/>
<line x1="98.9" y1="105.6" x2="102.5" y2="104.2" stroke="#a7d3ec" stroke-width="2.5" stroke-linecap="round"/>
<line x1="102.5" y1="104.2" x2="106.9" y2="102.7" stroke="#1478be" stroke-width="2.5" stroke-linecap="round"/>
<line x1="106.9" y1="102.7" x2="112.0" y2="101.0" stroke="#08306b" stroke-width="2.5" stroke-linecap="round"/>
<line x1="112.0" y1="101.0" x2="117.1" y2="99.8" stroke="#08306b" stroke-width="2.5" stroke-linecap="round"/>
<line x1="117.1" y1="99.8" x2="120.7" y2="96.9" stroke="#08306b" stroke-width="2.5" stroke-linecap="round"/>
<line x1="120.7" y1="96.9" x2="125.1" y2="94.0" stroke="#208cc8" stroke-width="2.5" stroke-linecap="round"/>
<line x1="125.1" y1="94.0" x2="130.2" y2="92.5" stroke="#a4d2ec" stroke-width="2.5" stroke-linecap="round"/>
<line x1="130.2" y1="92.5" x2="134.5" y2="93.0" stroke="#a4d2ec" stroke-width="2.5" stroke-linecap="round"/>
<line x1="134.5" y1="93.0" x2="138.9" y2="90.4" stroke="#3ea7d7" stroke-width="2.5" stroke-linecap="round"/>
<line x1="138.9" y1="90.4" x2="143.3" y2="87.5" stroke="#b0d7ee" stroke-width="2.5" stroke-linecap="round"/>
<line x1="143.3" y1="87.5" x2="146.9" y2="84.5" stroke="#b0d7ee" stroke-width="2.5" stroke-linecap="round"/>
<line x1="146.9" y1="84.5" x2="149.8" y2="80.9" stroke="#b0d7ee" stroke-width="2.5" stroke-linecap="round"/>
<line x1="149.8" y1="80.9" x2="148.4" y2="77.3" stroke="#b0d7ee" stroke-width="2.5" stroke-linecap="round"/>
<line x1="148.4" y1="77.3" x2="146.2" y2="73.6" stroke="#b0d7ee" stroke-width="2.5" stroke-linecap="round"/>
<line x1="146.2" y1="73.6" x2="145.0" y2="71.0" stroke="#b0d7ee" stroke-width="2.5" stroke-linecap="round"/>
<line x1="145.0" y1="71.0" x2="146.5" y2="66.2" stroke="#b0d7ee" stroke-width="2.5" stroke-linecap="round"/>
<line x1="146.5" y1="66.2" x2="148.7" y2="60.4" stroke="#b0d7ee" stroke-width="2.5" stroke-linecap="round"/>
<line x1="148.7" y1="60.4" x2="150.5" y2="56.7" stroke="#b0d7ee" stroke-width="2.5" stroke-linecap="round"/>
<line x1="150.5" y1="56.7" x2="154.5" y2="58.2" stroke="#b0d7ee" stroke-width="2.5" stroke-linecap="round"/>
<line x1="154.5" y1="58.2" x2="160.4" y2="61.1" stroke="#b0d7ee" stroke-width="2.5" stroke-linecap="round"/>
<line x1="160.4" y1="61.1" x2="165.5" y2="58.9" stroke="#b0d7ee" stroke-width="2.5" stroke-linecap="round"/>
<line x1="165.5" y1="58.9" x2="170.5" y2="59.6" stroke="#b0d7ee" stroke-width="2.5" stroke-linecap="round"/>
<line x1="170.5" y1="59.6" x2="176.4" y2="56.0" stroke="#b0d7ee" stroke-width="2.5" stroke-linecap="round"/>
<line x1="176.4" y1="56.0" x2="183.6" y2="53.1" stroke="#b0d7ee" stroke-width="2.5" stroke-linecap="round"/>
<line x1="183.6" y1="53.1" x2="190.9" y2="48.7" stroke="#b0d7ee" stroke-width="2.5" stroke-linecap="round"/>
<line x1="190.9" y1="48.7" x2="196.0" y2="42.9" stroke="#b0d7ee" stroke-width="2.5" stroke-linecap="round"/>
<line x1="196.0" y1="42.9" x2="198.2" y2="37.1" stroke="#b0d7ee" stroke-width="2.5" stroke-linecap="round"/>
<line x1="198.2" y1="37.1" x2="201.1" y2="31.3" stroke="#b0d7ee" stroke-width="2.5" stroke-linecap="round"/>
<line x1="201.1" y1="31.3" x2="204.0" y2="26.9" stroke="#bcdcf0" stroke-width="2.5" stroke-linecap="round"/>
<line x1="204.0" y1="26.9" x2="209.1" y2="22.5" stroke="#bcdcf0" stroke-width="2.5" stroke-linecap="round"/>
<line x1="209.1" y1="22.5" x2="212.7" y2="18.2" stroke="#bcdcf0" stroke-width="2.5" stroke-linecap="round"/>
<line x1="212.7" y1="18.2" x2="214.5" y2="13.1" stroke="#bcdcf0" stroke-width="2.5" stroke-linecap="round"/>
</g>
<rect x="28.70" y="7.90" width="189.80" height="154.70" fill="none" stroke="#222" stroke-width="0.65"/>
<line x1="28.70" y1="162.60" x2="28.70" y2="165.10" stroke="#111" stroke-width="0.7"/>
<text stroke-width="0.22" x="28.10" y="173.80" font-size="6.85" text-anchor="middle" >−84</text>
<line x1="57.90" y1="162.60" x2="57.90" y2="165.10" stroke="#111" stroke-width="0.7"/>
<text stroke-width="0.22" x="57.30" y="173.80" font-size="6.85" text-anchor="middle" >−82</text>
<line x1="87.10" y1="162.60" x2="87.10" y2="165.10" stroke="#111" stroke-width="0.7"/>
<text stroke-width="0.22" x="86.50" y="173.80" font-size="6.85" text-anchor="middle" >−80</text>
<line x1="116.30" y1="162.60" x2="116.30" y2="165.10" stroke="#111" stroke-width="0.7"/>
<text stroke-width="0.22" x="115.70" y="173.80" font-size="6.85" text-anchor="middle" >−78</text>
<line x1="145.50" y1="162.60" x2="145.50" y2="165.10" stroke="#111" stroke-width="0.7"/>
<text stroke-width="0.22" x="144.90" y="173.80" font-size="6.85" text-anchor="middle" >−76</text>
<line x1="174.70" y1="162.60" x2="174.70" y2="165.10" stroke="#111" stroke-width="0.7"/>
<text stroke-width="0.22" x="174.10" y="173.80" font-size="6.85" text-anchor="middle" >−74</text>
<line x1="203.90" y1="162.60" x2="203.90" y2="165.10" stroke="#111" stroke-width="0.7"/>
<text stroke-width="0.22" x="203.30" y="173.80" font-size="6.85" text-anchor="middle" >−72</text>
<line x1="26.20" y1="162.60" x2="28.70" y2="162.60" stroke="#111" stroke-width="0.7"/>
<text stroke-width="0.22" x="23.50" y="165.63" font-size="6.85" text-anchor="end" >42</text>
<line x1="26.20" y1="131.66" x2="28.70" y2="131.66" stroke="#111" stroke-width="0.7"/>
<text stroke-width="0.22" x="23.50" y="134.69" font-size="6.85" text-anchor="end" >43</text>
<line x1="26.20" y1="100.72" x2="28.70" y2="100.72" stroke="#111" stroke-width="0.7"/>
<text stroke-width="0.22" x="23.50" y="103.75" font-size="6.85" text-anchor="end" >44</text>
<line x1="26.20" y1="69.78" x2="28.70" y2="69.78" stroke="#111" stroke-width="0.7"/>
<text stroke-width="0.22" x="23.50" y="72.81" font-size="6.85" text-anchor="end" >45</text>
<line x1="26.20" y1="38.84" x2="28.70" y2="38.84" stroke="#111" stroke-width="0.7"/>
<text stroke-width="0.22" x="23.50" y="41.87" font-size="6.85" text-anchor="end" >46</text>
<line x1="26.20" y1="7.90" x2="28.70" y2="7.90" stroke="#111" stroke-width="0.7"/>
<text stroke-width="0.22" x="23.50" y="10.93" font-size="6.85" text-anchor="end" >47</text>
<text stroke-width="0.22" x="122.80" y="182.70" font-size="6.85" text-anchor="middle" >Longitude</text>
<text stroke-width="0.22" x="9.40" y="86.55" font-size="6.85" text-anchor="middle" transform="rotate(-90 9.40 86.55)" >Latitude</text>
<rect x="230.40" y="7.90" width="7.10" height="154.70" fill="url(#cbg)" stroke="#222" stroke-width="0.75"/>
<line x1="237.50" y1="162.60" x2="240.00" y2="162.60" stroke="#111" stroke-width="0.7"/>
<text stroke-width="0.22" x="242.10" y="165.13" font-size="6.85" text-anchor="start" >0.0</text>
<line x1="237.50" y1="136.82" x2="240.00" y2="136.82" stroke="#111" stroke-width="0.7"/>
<text stroke-width="0.22" x="242.10" y="139.35" font-size="6.85" text-anchor="start" >0.1</text>
<line x1="237.50" y1="111.03" x2="240.00" y2="111.03" stroke="#111" stroke-width="0.7"/>
<text stroke-width="0.22" x="242.10" y="113.57" font-size="6.85" text-anchor="start" >0.2</text>
<line x1="237.50" y1="85.25" x2="240.00" y2="85.25" stroke="#111" stroke-width="0.7"/>
<text stroke-width="0.22" x="242.10" y="87.78" font-size="6.85" text-anchor="start" >0.3</text>
<line x1="237.50" y1="59.47" x2="240.00" y2="59.47" stroke="#111" stroke-width="0.7"/>
<text stroke-width="0.22" x="242.10" y="62.00" font-size="6.85" text-anchor="start" >0.4</text>
<line x1="237.50" y1="33.68" x2="240.00" y2="33.68" stroke="#111" stroke-width="0.7"/>
<text stroke-width="0.22" x="242.10" y="36.22" font-size="6.85" text-anchor="start" >0.5</text>
<line x1="237.50" y1="7.90" x2="240.00" y2="7.90" stroke="#111" stroke-width="0.7"/>
<text stroke-width="0.22" x="242.10" y="10.43" font-size="6.85" text-anchor="start" >0.6</text>
<text stroke-width="0.22" x="262.00" y="85.25" font-size="6.85" text-anchor="middle" transform="rotate(-90 262.00 85.25)" >soil moisture (kg/m2)</text>
</g>
<g transform="translate(0,0)">
<polygon points="21.5,396.9 86.6,342.4 85.7,263.8 17.5,313.6" fill="#f8f8f8" stroke="#dcdcdc" stroke-width="0.5"/>
<polygon points="86.6,342.4 190.9,372.8 194.6,291.5 85.7,263.8" fill="#f1f1f1" stroke="#dcdcdc" stroke-width="0.5"/>
<polygon points="21.5,396.9 132.1,433.0 190.9,372.8 86.6,342.4" fill="#f4f4f4" stroke="#dcdcdc" stroke-width="0.5"/>
<line x1="23.65" y1="397.61" x2="88.55" y2="343.01" stroke="#b0b0b0" stroke-width="0.8" />
<line x1="88.55" y1="343.01" x2="87.73" y2="264.36" stroke="#b0b0b0" stroke-width="0.8" />
<line x1="39.29" y1="402.72" x2="103.36" y2="347.31" stroke="#b0b0b0" stroke-width="0.8" />
<line x1="103.36" y1="347.31" x2="103.17" y2="268.28" stroke="#b0b0b0" stroke-width="0.8" />
<line x1="55.18" y1="407.91" x2="118.38" y2="351.68" stroke="#b0b0b0" stroke-width="0.8" />
<line x1="118.38" y1="351.68" x2="118.84" y2="272.25" stroke="#b0b0b0" stroke-width="0.8" />
<line x1="71.31" y1="413.18" x2="133.62" y2="356.11" stroke="#b0b0b0" stroke-width="0.8" />
<line x1="133.62" y1="356.11" x2="134.74" y2="276.28" stroke="#b0b0b0" stroke-width="0.8" />
<line x1="87.69" y1="418.53" x2="149.07" y2="360.60" stroke="#b0b0b0" stroke-width="0.8" />
<line x1="149.07" y1="360.60" x2="150.88" y2="280.37" stroke="#b0b0b0" stroke-width="0.8" />
<line x1="104.34" y1="423.97" x2="164.75" y2="365.16" stroke="#b0b0b0" stroke-width="0.8" />
<line x1="164.75" y1="365.16" x2="167.27" y2="284.53" stroke="#b0b0b0" stroke-width="0.8" />
<line x1="121.25" y1="429.49" x2="180.65" y2="369.78" stroke="#b0b0b0" stroke-width="0.8" />
<line x1="180.65" y1="369.78" x2="183.90" y2="288.74" stroke="#b0b0b0" stroke-width="0.8" />
<line x1="133.41" y1="431.73" x2="22.96" y2="395.74" stroke="#b0b0b0" stroke-width="0.8" />
<line x1="22.96" y1="395.74" x2="19.02" y2="312.47" stroke="#b0b0b0" stroke-width="0.8" />
<line x1="145.49" y1="419.33" x2="36.28" y2="384.58" stroke="#b0b0b0" stroke-width="0.8" />
<line x1="36.28" y1="384.58" x2="33.01" y2="302.26" stroke="#b0b0b0" stroke-width="0.8" />
<line x1="157.14" y1="407.37" x2="49.15" y2="373.78" stroke="#b0b0b0" stroke-width="0.8" />
<line x1="49.15" y1="373.78" x2="46.52" y2="292.39" stroke="#b0b0b0" stroke-width="0.8" />
<line x1="168.40" y1="395.82" x2="61.62" y2="363.34" stroke="#b0b0b0" stroke-width="0.8" />
<line x1="61.62" y1="363.34" x2="59.58" y2="282.87" stroke="#b0b0b0" stroke-width="0.8" />
<line x1="179.28" y1="384.65" x2="73.68" y2="353.23" stroke="#b0b0b0" stroke-width="0.8" />
<line x1="73.68" y1="353.23" x2="72.20" y2="273.66" stroke="#b0b0b0" stroke-width="0.8" />
<line x1="189.80" y1="373.86" x2="85.36" y2="343.43" stroke="#b0b0b0" stroke-width="0.8" />
<line x1="85.36" y1="343.43" x2="84.41" y2="264.75" stroke="#b0b0b0" stroke-width="0.8" />
<line x1="21.47" y1="395.33" x2="86.54" y2="340.92" stroke="#b0b0b0" stroke-width="0.8" />
<line x1="86.54" y1="340.92" x2="190.95" y2="371.20" stroke="#b0b0b0" stroke-width="0.8" />
<line x1="20.85" y1="382.47" x2="86.40" y2="328.76" stroke="#b0b0b0" stroke-width="0.8" />
<line x1="86.40" y1="328.76" x2="191.53" y2="358.64" stroke="#b0b0b0" stroke-width="0.8" />
<line x1="20.22" y1="369.42" x2="86.26" y2="316.44" stroke="#b0b0b0" stroke-width="0.8" />
<line x1="86.26" y1="316.44" x2="192.11" y2="345.91" stroke="#b0b0b0" stroke-width="0.8" />
<line x1="19.58" y1="356.19" x2="86.12" y2="303.95" stroke="#b0b0b0" stroke-width="0.8" />
<line x1="86.12" y1="303.95" x2="192.70" y2="332.99" stroke="#b0b0b0" stroke-width="0.8" />
<line x1="18.94" y1="342.76" x2="85.97" y2="291.30" stroke="#b0b0b0" stroke-width="0.8" />
<line x1="85.97" y1="291.30" x2="193.30" y2="319.90" stroke="#b0b0b0" stroke-width="0.8" />
<line x1="18.28" y1="329.13" x2="85.82" y2="278.48" stroke="#b0b0b0" stroke-width="0.8" />
<line x1="85.82" y1="278.48" x2="193.91" y2="306.62" stroke="#b0b0b0" stroke-width="0.8" />
<line x1="17.61" y1="315.30" x2="85.67" y2="265.48" stroke="#b0b0b0" stroke-width="0.8" />
<line x1="85.67" y1="265.48" x2="194.52" y2="293.15" stroke="#b0b0b0" stroke-width="0.8" />
<line x1="21.55" y1="396.93" x2="132.13" y2="433.04" stroke="#1a1a1a" stroke-width="0.75" />
<line x1="132.13" y1="433.04" x2="190.88" y2="372.75" stroke="#1a1a1a" stroke-width="0.75" />
<line x1="190.88" y1="372.75" x2="194.60" y2="291.45" stroke="#1a1a1a" stroke-width="0.75" />
<line x1="24.83" y1="396.53" x2="22.17" y2="398.96" stroke="#1a1a1a" stroke-width="0.7" />
<line x1="40.47" y1="401.64" x2="37.82" y2="404.07" stroke="#1a1a1a" stroke-width="0.7" />
<line x1="56.36" y1="406.83" x2="53.70" y2="409.26" stroke="#1a1a1a" stroke-width="0.7" />
<line x1="72.49" y1="412.10" x2="69.83" y2="414.53" stroke="#1a1a1a" stroke-width="0.7" />
<line x1="88.87" y1="417.45" x2="86.22" y2="419.88" stroke="#1a1a1a" stroke-width="0.7" />
<line x1="105.52" y1="422.88" x2="102.86" y2="425.32" stroke="#1a1a1a" stroke-width="0.7" />
<line x1="122.43" y1="428.41" x2="119.77" y2="430.84" stroke="#1a1a1a" stroke-width="0.7" />
<line x1="131.89" y1="431.25" x2="135.32" y2="432.32" stroke="#1a1a1a" stroke-width="0.7" />
<line x1="143.96" y1="418.86" x2="147.40" y2="419.93" stroke="#1a1a1a" stroke-width="0.7" />
<line x1="155.62" y1="406.90" x2="159.05" y2="407.97" stroke="#1a1a1a" stroke-width="0.7" />
<line x1="166.87" y1="395.35" x2="170.31" y2="396.41" stroke="#1a1a1a" stroke-width="0.7" />
<line x1="177.75" y1="384.18" x2="181.19" y2="385.25" stroke="#1a1a1a" stroke-width="0.7" />
<line x1="188.28" y1="373.38" x2="191.71" y2="374.45" stroke="#1a1a1a" stroke-width="0.7" />
<line x1="189.42" y1="370.72" x2="192.86" y2="371.79" stroke="#1a1a1a" stroke-width="0.7" />
<line x1="190.00" y1="358.16" x2="193.44" y2="359.23" stroke="#1a1a1a" stroke-width="0.7" />
<line x1="190.58" y1="345.43" x2="194.02" y2="346.50" stroke="#1a1a1a" stroke-width="0.7" />
<line x1="191.17" y1="332.52" x2="194.61" y2="333.59" stroke="#1a1a1a" stroke-width="0.7" />
<line x1="191.77" y1="319.43" x2="195.21" y2="320.49" stroke="#1a1a1a" stroke-width="0.7" />
<line x1="192.38" y1="306.15" x2="195.82" y2="307.22" stroke="#1a1a1a" stroke-width="0.7" />
<line x1="193.00" y1="292.68" x2="196.43" y2="293.75" stroke="#1a1a1a" stroke-width="0.7" />
<line x1="35.30" y1="384.50" x2="35.50" y2="382.92" stroke="#d7e9f6" stroke-width="4.9" stroke-linecap="round"/>
<line x1="35.50" y1="382.92" x2="35.70" y2="381.33" stroke="#d2e7f5" stroke-width="4.9" stroke-linecap="round"/>
<line x1="35.70" y1="381.33" x2="35.90" y2="379.75" stroke="#cde4f3" stroke-width="4.9" stroke-linecap="round"/>
<line x1="35.90" y1="379.75" x2="36.10" y2="378.17" stroke="#c7e1f2" stroke-width="4.9" stroke-linecap="round"/>
<line x1="36.10" y1="378.17" x2="36.30" y2="376.58" stroke="#c1def1" stroke-width="4.9" stroke-linecap="round"/>
<line x1="36.30" y1="376.58" x2="36.50" y2="375.00" stroke="#badbf0" stroke-width="4.9" stroke-linecap="round"/>
<line x1="36.50" y1="375.00" x2="36.71" y2="373.43" stroke="#b4d8ef" stroke-width="4.9" stroke-linecap="round"/>
<line x1="36.71" y1="373.43" x2="36.93" y2="371.86" stroke="#add6ed" stroke-width="4.9" stroke-linecap="round"/>
<line x1="36.93" y1="371.86" x2="37.14" y2="370.29" stroke="#a6d3ec" stroke-width="4.9" stroke-linecap="round"/>
<line x1="37.14" y1="370.29" x2="37.36" y2="368.71" stroke="#9fd0eb" stroke-width="4.9" stroke-linecap="round"/>
<line x1="37.36" y1="368.71" x2="37.57" y2="367.14" stroke="#97cdea" stroke-width="4.9" stroke-linecap="round"/>
<line x1="37.57" y1="367.14" x2="37.79" y2="365.57" stroke="#90cae9" stroke-width="4.9" stroke-linecap="round"/>
<line x1="37.79" y1="365.57" x2="38.00" y2="364.00" stroke="#87c6e7" stroke-width="4.9" stroke-linecap="round"/>
<line x1="38.00" y1="364.00" x2="38.27" y2="362.33" stroke="#7bc1e4" stroke-width="4.9" stroke-linecap="round"/>
<line x1="38.27" y1="362.33" x2="38.53" y2="360.67" stroke="#6ebce2" stroke-width="4.9" stroke-linecap="round"/>
<line x1="38.53" y1="360.67" x2="38.80" y2="359.00" stroke="#63b7df" stroke-width="4.9" stroke-linecap="round"/>
<line x1="38.80" y1="359.00" x2="39.07" y2="357.33" stroke="#57b2dd" stroke-width="4.9" stroke-linecap="round"/>
<line x1="39.07" y1="357.33" x2="39.33" y2="355.67" stroke="#4badda" stroke-width="4.9" stroke-linecap="round"/>
<line x1="39.33" y1="355.67" x2="39.60" y2="354.00" stroke="#40a8d7" stroke-width="4.9" stroke-linecap="round"/>
<line x1="39.60" y1="354.00" x2="40.40" y2="352.20" stroke="#33a2d5" stroke-width="4.9" stroke-linecap="round"/>
<line x1="40.40" y1="352.20" x2="41.20" y2="350.40" stroke="#2a9dd2" stroke-width="4.9" stroke-linecap="round"/>
<line x1="41.20" y1="350.40" x2="44.00" y2="351.00" stroke="#299cd1" stroke-width="4.9" stroke-linecap="round"/>
<line x1="44.00" y1="351.00" x2="46.00" y2="352.00" stroke="#2da0d3" stroke-width="4.9" stroke-linecap="round"/>
<line x1="46.00" y1="352.00" x2="48.00" y2="353.00" stroke="#37a4d6" stroke-width="4.9" stroke-linecap="round"/>
<line x1="48.00" y1="353.00" x2="50.00" y2="354.00" stroke="#43a9d8" stroke-width="4.9" stroke-linecap="round"/>
<line x1="50.00" y1="354.00" x2="52.00" y2="355.00" stroke="#4eaedb" stroke-width="4.9" stroke-linecap="round"/>
<line x1="52.00" y1="355.00" x2="53.45" y2="355.40" stroke="#57b2dd" stroke-width="4.9" stroke-linecap="round"/>
<line x1="53.45" y1="355.40" x2="54.90" y2="355.80" stroke="#5db4de" stroke-width="4.9" stroke-linecap="round"/>
<line x1="54.90" y1="355.80" x2="55.77" y2="354.20" stroke="#5cb4de" stroke-width="4.9" stroke-linecap="round"/>
<line x1="55.77" y1="354.20" x2="56.63" y2="352.60" stroke="#53b0dc" stroke-width="4.9" stroke-linecap="round"/>
<line x1="56.63" y1="352.60" x2="57.50" y2="351.00" stroke="#49acd9" stroke-width="4.9" stroke-linecap="round"/>
<line x1="57.50" y1="351.00" x2="58.33" y2="349.60" stroke="#40a8d7" stroke-width="4.9" stroke-linecap="round"/>
<line x1="58.33" y1="349.60" x2="59.17" y2="348.20" stroke="#37a4d6" stroke-width="4.9" stroke-linecap="round"/>
<line x1="59.17" y1="348.20" x2="60.00" y2="346.80" stroke="#2da0d3" stroke-width="4.9" stroke-linecap="round"/>
<line x1="60.00" y1="346.80" x2="62.00" y2="348.50" stroke="#2c9fd3" stroke-width="4.9" stroke-linecap="round"/>
<line x1="62.00" y1="348.50" x2="63.90" y2="350.60" stroke="#3aa5d6" stroke-width="4.9" stroke-linecap="round"/>
<line x1="63.90" y1="350.60" x2="65.80" y2="348.50" stroke="#3ba6d6" stroke-width="4.9" stroke-linecap="round"/>
<line x1="65.80" y1="348.50" x2="67.70" y2="346.80" stroke="#2ea0d4" stroke-width="4.9" stroke-linecap="round"/>
<line x1="67.70" y1="346.80" x2="70.00" y2="348.50" stroke="#2c9fd3" stroke-width="4.9" stroke-linecap="round"/>
<line x1="70.00" y1="348.50" x2="71.33" y2="349.50" stroke="#37a4d6" stroke-width="4.9" stroke-linecap="round"/>
<line x1="71.33" y1="349.50" x2="72.67" y2="350.50" stroke="#3ea7d7" stroke-width="4.9" stroke-linecap="round"/>
<line x1="72.67" y1="350.50" x2="74.00" y2="351.50" stroke="#45aad9" stroke-width="4.9" stroke-linecap="round"/>
<line x1="74.00" y1="351.50" x2="75.30" y2="352.32" stroke="#4dadda" stroke-width="4.9" stroke-linecap="round"/>
<line x1="75.30" y1="352.32" x2="76.60" y2="353.15" stroke="#56b1dc" stroke-width="4.9" stroke-linecap="round"/>
<line x1="76.60" y1="353.15" x2="77.90" y2="353.98" stroke="#5fb5de" stroke-width="4.9" stroke-linecap="round"/>
<line x1="77.90" y1="353.98" x2="79.20" y2="354.80" stroke="#68b9e0" stroke-width="4.9" stroke-linecap="round"/>
<line x1="79.20" y1="354.80" x2="81.35" y2="354.40" stroke="#6ebce2" stroke-width="4.9" stroke-linecap="round"/>
<line x1="81.35" y1="354.40" x2="83.50" y2="354.00" stroke="#70bce2" stroke-width="4.9" stroke-linecap="round"/>
<line x1="83.50" y1="354.00" x2="85.30" y2="353.25" stroke="#6fbce2" stroke-width="4.9" stroke-linecap="round"/>
<line x1="85.30" y1="353.25" x2="87.10" y2="352.50" stroke="#6cbbe1" stroke-width="4.9" stroke-linecap="round"/>
<line x1="87.10" y1="352.50" x2="87.47" y2="351.02" stroke="#64b7df" stroke-width="4.9" stroke-linecap="round"/>
<line x1="87.47" y1="351.02" x2="87.83" y2="349.53" stroke="#5ab3dd" stroke-width="4.9" stroke-linecap="round"/>
<line x1="87.83" y1="349.53" x2="88.20" y2="348.05" stroke="#50afdb" stroke-width="4.9" stroke-linecap="round"/>
<line x1="88.20" y1="348.05" x2="88.57" y2="346.57" stroke="#46aad9" stroke-width="4.9" stroke-linecap="round"/>
<line x1="88.57" y1="346.57" x2="88.93" y2="345.08" stroke="#3ca6d7" stroke-width="4.9" stroke-linecap="round"/>
<line x1="88.93" y1="345.08" x2="89.30" y2="343.60" stroke="#32a2d4" stroke-width="4.9" stroke-linecap="round"/>
<line x1="89.30" y1="343.60" x2="89.62" y2="341.99" stroke="#2a9dd2" stroke-width="4.9" stroke-linecap="round"/>
<line x1="89.62" y1="341.99" x2="89.94" y2="340.38" stroke="#2799d0" stroke-width="4.9" stroke-linecap="round"/>
<line x1="89.94" y1="340.38" x2="90.27" y2="338.77" stroke="#2594cd" stroke-width="4.9" stroke-linecap="round"/>
<line x1="90.27" y1="338.77" x2="90.59" y2="337.16" stroke="#2290cb" stroke-width="4.9" stroke-linecap="round"/>
<line x1="90.59" y1="337.16" x2="90.91" y2="335.54" stroke="#208cc9" stroke-width="4.9" stroke-linecap="round"/>
<line x1="90.91" y1="335.54" x2="91.23" y2="333.93" stroke="#1d87c6" stroke-width="4.9" stroke-linecap="round"/>
<line x1="91.23" y1="333.93" x2="91.56" y2="332.32" stroke="#1a83c4" stroke-width="4.9" stroke-linecap="round"/>
<line x1="91.56" y1="332.32" x2="91.88" y2="330.71" stroke="#187ec1" stroke-width="4.9" stroke-linecap="round"/>
<line x1="91.88" y1="330.71" x2="92.20" y2="329.10" stroke="#157abf" stroke-width="4.9" stroke-linecap="round"/>
<line x1="92.20" y1="329.10" x2="92.60" y2="327.64" stroke="#1376bc" stroke-width="4.9" stroke-linecap="round"/>
<line x1="92.60" y1="327.64" x2="93.00" y2="326.19" stroke="#1272b9" stroke-width="4.9" stroke-linecap="round"/>
<line x1="93.00" y1="326.19" x2="93.40" y2="324.73" stroke="#126eb6" stroke-width="4.9" stroke-linecap="round"/>
<line x1="93.40" y1="324.73" x2="93.80" y2="323.28" stroke="#116ab2" stroke-width="4.9" stroke-linecap="round"/>
<line x1="93.80" y1="323.28" x2="94.20" y2="321.82" stroke="#1066af" stroke-width="4.9" stroke-linecap="round"/>
<line x1="94.20" y1="321.82" x2="94.60" y2="320.37" stroke="#0f62ac" stroke-width="4.9" stroke-linecap="round"/>
<line x1="94.60" y1="320.37" x2="95.00" y2="318.91" stroke="#0e5fa9" stroke-width="4.9" stroke-linecap="round"/>
<line x1="95.00" y1="318.91" x2="95.40" y2="317.46" stroke="#0d5ba5" stroke-width="4.9" stroke-linecap="round"/>
<line x1="95.40" y1="317.46" x2="95.80" y2="316.00" stroke="#0c57a2" stroke-width="4.9" stroke-linecap="round"/>
<line x1="95.80" y1="316.00" x2="96.77" y2="314.53" stroke="#0b539f" stroke-width="4.9" stroke-linecap="round"/>
<line x1="96.77" y1="314.53" x2="97.73" y2="313.07" stroke="#0b4f99" stroke-width="4.9" stroke-linecap="round"/>
<line x1="97.73" y1="313.07" x2="98.70" y2="311.60" stroke="#0a4b93" stroke-width="4.9" stroke-linecap="round"/>
<line x1="98.70" y1="311.60" x2="100.15" y2="313.05" stroke="#0a4b93" stroke-width="4.9" stroke-linecap="round"/>
<line x1="100.15" y1="313.05" x2="101.60" y2="314.50" stroke="#0b4f99" stroke-width="4.9" stroke-linecap="round"/>
<line x1="101.60" y1="314.50" x2="102.48" y2="315.96" stroke="#0b539f" stroke-width="4.9" stroke-linecap="round"/>
<line x1="102.48" y1="315.96" x2="103.36" y2="317.42" stroke="#0c57a2" stroke-width="4.9" stroke-linecap="round"/>
<line x1="103.36" y1="317.42" x2="104.24" y2="318.88" stroke="#0d5ba6" stroke-width="4.9" stroke-linecap="round"/>
<line x1="104.24" y1="318.88" x2="105.12" y2="320.34" stroke="#0e5fa9" stroke-width="4.9" stroke-linecap="round"/>
<line x1="105.12" y1="320.34" x2="106.00" y2="321.80" stroke="#0f63ac" stroke-width="4.9" stroke-linecap="round"/>
<line x1="106.00" y1="321.80" x2="107.47" y2="323.03" stroke="#1066af" stroke-width="4.9" stroke-linecap="round"/>
<line x1="107.47" y1="323.03" x2="108.93" y2="324.27" stroke="#1069b1" stroke-width="4.9" stroke-linecap="round"/>
<line x1="108.93" y1="324.27" x2="110.40" y2="325.50" stroke="#116bb3" stroke-width="4.9" stroke-linecap="round"/>
<line x1="110.40" y1="325.50" x2="110.82" y2="327.10" stroke="#116db5" stroke-width="4.9" stroke-linecap="round"/>
<line x1="110.82" y1="327.10" x2="111.24" y2="328.70" stroke="#1271b9" stroke-width="4.9" stroke-linecap="round"/>
<line x1="111.24" y1="328.70" x2="111.66" y2="330.30" stroke="#1376bc" stroke-width="4.9" stroke-linecap="round"/>
<line x1="111.66" y1="330.30" x2="112.08" y2="331.90" stroke="#157abf" stroke-width="4.9" stroke-linecap="round"/>
<line x1="112.08" y1="331.90" x2="112.50" y2="333.50" stroke="#187ec1" stroke-width="4.9" stroke-linecap="round"/>
<line x1="112.50" y1="333.50" x2="112.83" y2="335.11" stroke="#1a83c4" stroke-width="4.9" stroke-linecap="round"/>
<line x1="112.83" y1="335.11" x2="113.17" y2="336.72" stroke="#1d87c6" stroke-width="4.9" stroke-linecap="round"/>
<line x1="113.17" y1="336.72" x2="113.50" y2="338.33" stroke="#208cc9" stroke-width="4.9" stroke-linecap="round"/>
<line x1="113.50" y1="338.33" x2="113.83" y2="339.94" stroke="#2290cb" stroke-width="4.9" stroke-linecap="round"/>
<line x1="113.83" y1="339.94" x2="114.17" y2="341.56" stroke="#2595cd" stroke-width="4.9" stroke-linecap="round"/>
<line x1="114.17" y1="341.56" x2="114.50" y2="343.17" stroke="#2899d0" stroke-width="4.9" stroke-linecap="round"/>
<line x1="114.50" y1="343.17" x2="114.83" y2="344.78" stroke="#2a9ed2" stroke-width="4.9" stroke-linecap="round"/>
<line x1="114.83" y1="344.78" x2="115.17" y2="346.39" stroke="#33a2d5" stroke-width="4.9" stroke-linecap="round"/>
<line x1="115.17" y1="346.39" x2="115.50" y2="348.00" stroke="#3ea7d7" stroke-width="4.9" stroke-linecap="round"/>
<line x1="115.50" y1="348.00" x2="115.86" y2="349.64" stroke="#49acd9" stroke-width="4.9" stroke-linecap="round"/>
<line x1="115.86" y1="349.64" x2="116.22" y2="351.27" stroke="#54b0dc" stroke-width="4.9" stroke-linecap="round"/>
<line x1="116.22" y1="351.27" x2="116.59" y2="352.91" stroke="#60b5de" stroke-width="4.9" stroke-linecap="round"/>
<line x1="116.59" y1="352.91" x2="116.95" y2="354.55" stroke="#6bbae1" stroke-width="4.9" stroke-linecap="round"/>
<line x1="116.95" y1="354.55" x2="117.31" y2="356.19" stroke="#76bfe3" stroke-width="4.9" stroke-linecap="round"/>
<line x1="117.31" y1="356.19" x2="117.68" y2="357.83" stroke="#81c4e6" stroke-width="4.9" stroke-linecap="round"/>
<line x1="117.68" y1="357.83" x2="118.04" y2="359.46" stroke="#8dc8e8" stroke-width="4.9" stroke-linecap="round"/>
<line x1="118.04" y1="359.46" x2="118.40" y2="361.10" stroke="#94cbe9" stroke-width="4.9" stroke-linecap="round"/>
<line x1="118.40" y1="361.10" x2="118.98" y2="362.78" stroke="#9bceea" stroke-width="4.9" stroke-linecap="round"/>
<line x1="118.98" y1="362.78" x2="119.56" y2="364.46" stroke="#a2d1ec" stroke-width="4.9" stroke-linecap="round"/>
<line x1="119.56" y1="364.46" x2="120.14" y2="366.14" stroke="#aad4ed" stroke-width="4.9" stroke-linecap="round"/>
<line x1="120.14" y1="366.14" x2="120.72" y2="367.82" stroke="#b1d7ee" stroke-width="4.9" stroke-linecap="round"/>
<line x1="120.72" y1="367.82" x2="121.30" y2="369.50" stroke="#b9dbef" stroke-width="4.9" stroke-linecap="round"/>
<line x1="121.30" y1="369.50" x2="122.15" y2="370.85" stroke="#c0def1" stroke-width="4.9" stroke-linecap="round"/>
<line x1="122.15" y1="370.85" x2="123.00" y2="372.20" stroke="#c6e0f2" stroke-width="4.9" stroke-linecap="round"/>
<line x1="123.00" y1="372.20" x2="123.75" y2="370.65" stroke="#c7e1f2" stroke-width="4.9" stroke-linecap="round"/>
<line x1="123.75" y1="370.65" x2="124.50" y2="369.10" stroke="#c5e0f1" stroke-width="4.9" stroke-linecap="round"/>
<line x1="124.50" y1="369.10" x2="125.25" y2="367.55" stroke="#cce3f3" stroke-width="4.9" stroke-linecap="round"/>
<line x1="125.25" y1="367.55" x2="126.00" y2="366.00" stroke="#c8e1f2" stroke-width="4.9" stroke-linecap="round"/>
<line x1="126.00" y1="366.00" x2="126.57" y2="364.57" stroke="#c3dff1" stroke-width="4.9" stroke-linecap="round"/>
<line x1="126.57" y1="364.57" x2="127.14" y2="363.14" stroke="#beddf0" stroke-width="4.9" stroke-linecap="round"/>
<line x1="127.14" y1="363.14" x2="127.71" y2="361.71" stroke="#badbf0" stroke-width="4.9" stroke-linecap="round"/>
<line x1="127.71" y1="361.71" x2="128.29" y2="360.29" stroke="#b5d9ef" stroke-width="4.9" stroke-linecap="round"/>
<line x1="128.29" y1="360.29" x2="128.86" y2="358.86" stroke="#b0d7ee" stroke-width="4.9" stroke-linecap="round"/>
<line x1="128.86" y1="358.86" x2="129.43" y2="357.43" stroke="#abd5ed" stroke-width="4.9" stroke-linecap="round"/>
<line x1="129.43" y1="357.43" x2="130.00" y2="356.00" stroke="#a6d3ec" stroke-width="4.9" stroke-linecap="round"/>
<line x1="130.00" y1="356.00" x2="131.07" y2="354.57" stroke="#a2d1ec" stroke-width="4.9" stroke-linecap="round"/>
<line x1="131.07" y1="354.57" x2="132.13" y2="353.13" stroke="#9ed0eb" stroke-width="4.9" stroke-linecap="round"/>
<line x1="132.13" y1="353.13" x2="133.20" y2="351.70" stroke="#9aceea" stroke-width="4.9" stroke-linecap="round"/>
<line x1="133.20" y1="351.70" x2="134.15" y2="353.02" stroke="#99cdea" stroke-width="4.9" stroke-linecap="round"/>
<line x1="134.15" y1="353.02" x2="135.10" y2="354.35" stroke="#9ccfeb" stroke-width="4.9" stroke-linecap="round"/>
<line x1="135.10" y1="354.35" x2="136.05" y2="355.68" stroke="#9ecfeb" stroke-width="4.9" stroke-linecap="round"/>
<line x1="136.05" y1="355.68" x2="137.00" y2="357.00" stroke="#a0d0eb" stroke-width="4.9" stroke-linecap="round"/>
<line x1="137.00" y1="357.00" x2="137.97" y2="358.23" stroke="#a3d2ec" stroke-width="4.9" stroke-linecap="round"/>
<line x1="137.97" y1="358.23" x2="138.95" y2="359.45" stroke="#a8d4ed" stroke-width="4.9" stroke-linecap="round"/>
<line x1="138.95" y1="359.45" x2="139.93" y2="360.67" stroke="#aed6ee" stroke-width="4.9" stroke-linecap="round"/>
<line x1="139.93" y1="360.67" x2="140.90" y2="361.90" stroke="#b3d8ee" stroke-width="4.9" stroke-linecap="round"/>
<line x1="140.90" y1="361.90" x2="142.50" y2="362.88" stroke="#b5d9ef" stroke-width="4.9" stroke-linecap="round"/>
<line x1="142.50" y1="362.88" x2="144.10" y2="363.85" stroke="#b7daef" stroke-width="4.9" stroke-linecap="round"/>
<line x1="144.10" y1="363.85" x2="145.70" y2="364.82" stroke="#bbdcf0" stroke-width="4.9" stroke-linecap="round"/>
<line x1="145.70" y1="364.82" x2="147.30" y2="365.80" stroke="#c0def1" stroke-width="4.9" stroke-linecap="round"/>
<line x1="147.30" y1="365.80" x2="148.82" y2="365.28" stroke="#c1def1" stroke-width="4.9" stroke-linecap="round"/>
<line x1="148.82" y1="365.28" x2="150.34" y2="364.76" stroke="#bfddf0" stroke-width="4.9" stroke-linecap="round"/>
<line x1="150.34" y1="364.76" x2="151.86" y2="364.24" stroke="#bcdcf0" stroke-width="4.9" stroke-linecap="round"/>
<line x1="151.86" y1="364.24" x2="153.38" y2="363.72" stroke="#badbf0" stroke-width="4.9" stroke-linecap="round"/>
<line x1="153.38" y1="363.72" x2="154.90" y2="363.20" stroke="#b8daef" stroke-width="4.9" stroke-linecap="round"/>
<line x1="154.90" y1="363.20" x2="156.18" y2="362.13" stroke="#b5d9ef" stroke-width="4.9" stroke-linecap="round"/>
<line x1="156.18" y1="362.13" x2="157.47" y2="361.07" stroke="#b1d7ee" stroke-width="4.9" stroke-linecap="round"/>
<line x1="157.47" y1="361.07" x2="158.75" y2="360.00" stroke="#add6ed" stroke-width="4.9" stroke-linecap="round"/>
<line x1="158.75" y1="360.00" x2="160.03" y2="358.93" stroke="#a9d4ed" stroke-width="4.9" stroke-linecap="round"/>
<line x1="160.03" y1="358.93" x2="161.32" y2="357.87" stroke="#a6d3ec" stroke-width="4.9" stroke-linecap="round"/>
<line x1="161.32" y1="357.87" x2="162.60" y2="356.80" stroke="#a3d2ec" stroke-width="4.9" stroke-linecap="round"/>
<line x1="162.60" y1="356.80" x2="164.20" y2="355.98" stroke="#a1d1eb" stroke-width="4.9" stroke-linecap="round"/>
<line x1="164.20" y1="355.98" x2="165.80" y2="355.15" stroke="#a1d1eb" stroke-width="4.9" stroke-linecap="round"/>
<line x1="165.80" y1="355.15" x2="167.40" y2="354.32" stroke="#a1d1eb" stroke-width="4.9" stroke-linecap="round"/>
<line x1="167.40" y1="354.32" x2="169.00" y2="353.50" stroke="#a0d0eb" stroke-width="4.9" stroke-linecap="round"/>
<line x1="169.00" y1="353.50" x2="170.52" y2="353.30" stroke="#a1d1eb" stroke-width="4.9" stroke-linecap="round"/>
<line x1="170.52" y1="353.30" x2="172.04" y2="353.10" stroke="#a2d1ec" stroke-width="4.9" stroke-linecap="round"/>
<line x1="172.04" y1="353.10" x2="173.56" y2="352.90" stroke="#a4d2ec" stroke-width="4.9" stroke-linecap="round"/>
<line x1="173.56" y1="352.90" x2="175.08" y2="352.70" stroke="#a4d2ec" stroke-width="4.9" stroke-linecap="round"/>
<line x1="175.08" y1="352.70" x2="176.60" y2="352.50" stroke="#a4d2ec" stroke-width="4.9" stroke-linecap="round"/>
<line x1="176.60" y1="352.50" x2="178.14" y2="352.34" stroke="#a4d2ec" stroke-width="4.9" stroke-linecap="round"/>
<line x1="178.14" y1="352.34" x2="179.68" y2="352.18" stroke="#a5d3ec" stroke-width="4.9" stroke-linecap="round"/>
<line x1="179.68" y1="352.18" x2="181.22" y2="352.02" stroke="#a6d3ec" stroke-width="4.9" stroke-linecap="round"/>
<line x1="181.22" y1="352.02" x2="182.76" y2="351.86" stroke="#a9d4ed" stroke-width="4.9" stroke-linecap="round"/>
<line x1="182.76" y1="351.86" x2="184.30" y2="351.70" stroke="#abd5ed" stroke-width="4.9" stroke-linecap="round"/>
<text stroke-width="0.22" x="15.90" y="419.53" font-size="9" text-anchor="middle" >−84</text>
<text stroke-width="0.22" x="31.20" y="424.63" font-size="9" text-anchor="middle" >−82</text>
<text stroke-width="0.22" x="47.80" y="429.73" font-size="9" text-anchor="middle" >−80</text>
<text stroke-width="0.22" x="64.50" y="434.83" font-size="9" text-anchor="middle" >−78</text>
<text stroke-width="0.22" x="80.50" y="440.43" font-size="9" text-anchor="middle" >−76</text>
<text stroke-width="0.22" x="96.90" y="445.83" font-size="9" text-anchor="middle" >−74</text>
<text stroke-width="0.22" x="113.50" y="451.93" font-size="9" text-anchor="middle" >−72</text>
<text stroke-width="0.22" x="144.70" y="452.13" font-size="9" text-anchor="middle" >42</text>
<text stroke-width="0.22" x="156.70" y="439.33" font-size="9" text-anchor="middle" >43</text>
<text stroke-width="0.22" x="167.70" y="427.83" font-size="9" text-anchor="middle" >44</text>
<text stroke-width="0.22" x="179.20" y="415.63" font-size="9" text-anchor="middle" >45</text>
<text stroke-width="0.22" x="189.90" y="403.63" font-size="9" text-anchor="middle" >46</text>
<text stroke-width="0.22" x="200.20" y="392.63" font-size="9" text-anchor="middle" >47</text>
<text stroke-width="0.22" x="210.90" y="376.23" font-size="9" text-anchor="middle" >0.0</text>
<text stroke-width="0.22" x="210.90" y="362.93" font-size="9" text-anchor="middle" >0.1</text>
<text stroke-width="0.22" x="210.90" y="350.63" font-size="9" text-anchor="middle" >0.2</text>
<text stroke-width="0.22" x="210.90" y="337.83" font-size="9" text-anchor="middle" >0.3</text>
<text stroke-width="0.22" x="210.90" y="324.53" font-size="9" text-anchor="middle" >0.4</text>
<text stroke-width="0.22" x="210.90" y="311.83" font-size="9" text-anchor="middle" >0.5</text>
<text stroke-width="0.22" x="210.90" y="297.73" font-size="9" text-anchor="middle" >0.6</text>
<text stroke-width="0.22" x="60.00" y="449.00" font-size="9" text-anchor="middle" transform="rotate(19 60.00 449.00)" >Longitude</text>
<text stroke-width="0.22" x="187.90" y="430.10" font-size="9" text-anchor="middle" transform="rotate(-46 187.90 430.10)" >Latitude</text>
<text stroke-width="0.22" x="104.80" y="242.40" font-size="10.7" text-anchor="middle" >interpol-RBFN</text>
<rect x="218.90" y="247.70" width="10.10" height="197.90" fill="url(#cbg)" stroke="#222" stroke-width="0.75"/>
<line x1="229.00" y1="445.60" x2="231.50" y2="445.60" stroke="#111" stroke-width="0.7"/>
<text stroke-width="0.22" x="234.40" y="449.63" font-size="9" text-anchor="start" >0.0</text>
<line x1="229.00" y1="412.62" x2="231.50" y2="412.62" stroke="#111" stroke-width="0.7"/>
<text stroke-width="0.22" x="234.40" y="416.65" font-size="9" text-anchor="start" >0.1</text>
<line x1="229.00" y1="379.63" x2="231.50" y2="379.63" stroke="#111" stroke-width="0.7"/>
<text stroke-width="0.22" x="234.40" y="383.66" font-size="9" text-anchor="start" >0.2</text>
<line x1="229.00" y1="346.65" x2="231.50" y2="346.65" stroke="#111" stroke-width="0.7"/>
<text stroke-width="0.22" x="234.40" y="350.68" font-size="9" text-anchor="start" >0.3</text>
<line x1="229.00" y1="313.67" x2="231.50" y2="313.67" stroke="#111" stroke-width="0.7"/>
<text stroke-width="0.22" x="234.40" y="317.70" font-size="9" text-anchor="start" >0.4</text>
<line x1="229.00" y1="280.68" x2="231.50" y2="280.68" stroke="#111" stroke-width="0.7"/>
<text stroke-width="0.22" x="234.40" y="284.71" font-size="9" text-anchor="start" >0.5</text>
<line x1="229.00" y1="247.70" x2="231.50" y2="247.70" stroke="#111" stroke-width="0.7"/>
<text stroke-width="0.22" x="234.40" y="251.73" font-size="9" text-anchor="start" >0.6</text>
<text stroke-width="0.22" x="260.40" y="348.15" font-size="9" text-anchor="middle" transform="rotate(-90 260.40 348.15)" >soil moisture (kg/m2)</text>
</g>
<g transform="translate(283,0)">
<polygon points="21.5,396.9 86.6,342.4 85.7,263.8 17.5,313.6" fill="#f8f8f8" stroke="#dcdcdc" stroke-width="0.5"/>
<polygon points="86.6,342.4 190.9,372.8 194.6,291.5 85.7,263.8" fill="#f1f1f1" stroke="#dcdcdc" stroke-width="0.5"/>
<polygon points="21.5,396.9 132.1,433.0 190.9,372.8 86.6,342.4" fill="#f4f4f4" stroke="#dcdcdc" stroke-width="0.5"/>
<line x1="23.65" y1="397.61" x2="88.55" y2="343.01" stroke="#b0b0b0" stroke-width="0.8" />
<line x1="88.55" y1="343.01" x2="87.73" y2="264.36" stroke="#b0b0b0" stroke-width="0.8" />
<line x1="39.29" y1="402.72" x2="103.36" y2="347.31" stroke="#b0b0b0" stroke-width="0.8" />
<line x1="103.36" y1="347.31" x2="103.17" y2="268.28" stroke="#b0b0b0" stroke-width="0.8" />
<line x1="55.18" y1="407.91" x2="118.38" y2="351.68" stroke="#b0b0b0" stroke-width="0.8" />
<line x1="118.38" y1="351.68" x2="118.84" y2="272.25" stroke="#b0b0b0" stroke-width="0.8" />
<line x1="71.31" y1="413.18" x2="133.62" y2="356.11" stroke="#b0b0b0" stroke-width="0.8" />
<line x1="133.62" y1="356.11" x2="134.74" y2="276.28" stroke="#b0b0b0" stroke-width="0.8" />
<line x1="87.69" y1="418.53" x2="149.07" y2="360.60" stroke="#b0b0b0" stroke-width="0.8" />
<line x1="149.07" y1="360.60" x2="150.88" y2="280.37" stroke="#b0b0b0" stroke-width="0.8" />
<line x1="104.34" y1="423.97" x2="164.75" y2="365.16" stroke="#b0b0b0" stroke-width="0.8" />
<line x1="164.75" y1="365.16" x2="167.27" y2="284.53" stroke="#b0b0b0" stroke-width="0.8" />
<line x1="121.25" y1="429.49" x2="180.65" y2="369.78" stroke="#b0b0b0" stroke-width="0.8" />
<line x1="180.65" y1="369.78" x2="183.90" y2="288.74" stroke="#b0b0b0" stroke-width="0.8" />
<line x1="133.41" y1="431.73" x2="22.96" y2="395.74" stroke="#b0b0b0" stroke-width="0.8" />
<line x1="22.96" y1="395.74" x2="19.02" y2="312.47" stroke="#b0b0b0" stroke-width="0.8" />
<line x1="145.49" y1="419.33" x2="36.28" y2="384.58" stroke="#b0b0b0" stroke-width="0.8" />
<line x1="36.28" y1="384.58" x2="33.01" y2="302.26" stroke="#b0b0b0" stroke-width="0.8" />
<line x1="157.14" y1="407.37" x2="49.15" y2="373.78" stroke="#b0b0b0" stroke-width="0.8" />
<line x1="49.15" y1="373.78" x2="46.52" y2="292.39" stroke="#b0b0b0" stroke-width="0.8" />
<line x1="168.40" y1="395.82" x2="61.62" y2="363.34" stroke="#b0b0b0" stroke-width="0.8" />
<line x1="61.62" y1="363.34" x2="59.58" y2="282.87" stroke="#b0b0b0" stroke-width="0.8" />
<line x1="179.28" y1="384.65" x2="73.68" y2="353.23" stroke="#b0b0b0" stroke-width="0.8" />
<line x1="73.68" y1="353.23" x2="72.20" y2="273.66" stroke="#b0b0b0" stroke-width="0.8" />
<line x1="189.80" y1="373.86" x2="85.36" y2="343.43" stroke="#b0b0b0" stroke-width="0.8" />
<line x1="85.36" y1="343.43" x2="84.41" y2="264.75" stroke="#b0b0b0" stroke-width="0.8" />
<line x1="21.47" y1="395.33" x2="86.54" y2="340.92" stroke="#b0b0b0" stroke-width="0.8" />
<line x1="86.54" y1="340.92" x2="190.95" y2="371.20" stroke="#b0b0b0" stroke-width="0.8" />
<line x1="20.85" y1="382.47" x2="86.40" y2="328.76" stroke="#b0b0b0" stroke-width="0.8" />
<line x1="86.40" y1="328.76" x2="191.53" y2="358.64" stroke="#b0b0b0" stroke-width="0.8" />
<line x1="20.22" y1="369.42" x2="86.26" y2="316.44" stroke="#b0b0b0" stroke-width="0.8" />
<line x1="86.26" y1="316.44" x2="192.11" y2="345.91" stroke="#b0b0b0" stroke-width="0.8" />
<line x1="19.58" y1="356.19" x2="86.12" y2="303.95" stroke="#b0b0b0" stroke-width="0.8" />
<line x1="86.12" y1="303.95" x2="192.70" y2="332.99" stroke="#b0b0b0" stroke-width="0.8" />
<line x1="18.94" y1="342.76" x2="85.97" y2="291.30" stroke="#b0b0b0" stroke-width="0.8" />
<line x1="85.97" y1="291.30" x2="193.30" y2="319.90" stroke="#b0b0b0" stroke-width="0.8" />
<line x1="18.28" y1="329.13" x2="85.82" y2="278.48" stroke="#b0b0b0" stroke-width="0.8" />
<line x1="85.82" y1="278.48" x2="193.91" y2="306.62" stroke="#b0b0b0" stroke-width="0.8" />
<line x1="17.61" y1="315.30" x2="85.67" y2="265.48" stroke="#b0b0b0" stroke-width="0.8" />
<line x1="85.67" y1="265.48" x2="194.52" y2="293.15" stroke="#b0b0b0" stroke-width="0.8" />
<line x1="21.55" y1="396.93" x2="132.13" y2="433.04" stroke="#1a1a1a" stroke-width="0.75" />
<line x1="132.13" y1="433.04" x2="190.88" y2="372.75" stroke="#1a1a1a" stroke-width="0.75" />
<line x1="190.88" y1="372.75" x2="194.60" y2="291.45" stroke="#1a1a1a" stroke-width="0.75" />
<line x1="24.83" y1="396.53" x2="22.17" y2="398.96" stroke="#1a1a1a" stroke-width="0.7" />
<line x1="40.47" y1="401.64" x2="37.82" y2="404.07" stroke="#1a1a1a" stroke-width="0.7" />
<line x1="56.36" y1="406.83" x2="53.70" y2="409.26" stroke="#1a1a1a" stroke-width="0.7" />
<line x1="72.49" y1="412.10" x2="69.83" y2="414.53" stroke="#1a1a1a" stroke-width="0.7" />
<line x1="88.87" y1="417.45" x2="86.22" y2="419.88" stroke="#1a1a1a" stroke-width="0.7" />
<line x1="105.52" y1="422.88" x2="102.86" y2="425.32" stroke="#1a1a1a" stroke-width="0.7" />
<line x1="122.43" y1="428.41" x2="119.77" y2="430.84" stroke="#1a1a1a" stroke-width="0.7" />
<line x1="131.89" y1="431.25" x2="135.32" y2="432.32" stroke="#1a1a1a" stroke-width="0.7" />
<line x1="143.96" y1="418.86" x2="147.40" y2="419.93" stroke="#1a1a1a" stroke-width="0.7" />
<line x1="155.62" y1="406.90" x2="159.05" y2="407.97" stroke="#1a1a1a" stroke-width="0.7" />
<line x1="166.87" y1="395.35" x2="170.31" y2="396.41" stroke="#1a1a1a" stroke-width="0.7" />
<line x1="177.75" y1="384.18" x2="181.19" y2="385.25" stroke="#1a1a1a" stroke-width="0.7" />
<line x1="188.28" y1="373.38" x2="191.71" y2="374.45" stroke="#1a1a1a" stroke-width="0.7" />
<line x1="189.42" y1="370.72" x2="192.86" y2="371.79" stroke="#1a1a1a" stroke-width="0.7" />
<line x1="190.00" y1="358.16" x2="193.44" y2="359.23" stroke="#1a1a1a" stroke-width="0.7" />
<line x1="190.58" y1="345.43" x2="194.02" y2="346.50" stroke="#1a1a1a" stroke-width="0.7" />
<line x1="191.17" y1="332.52" x2="194.61" y2="333.59" stroke="#1a1a1a" stroke-width="0.7" />
<line x1="191.77" y1="319.43" x2="195.21" y2="320.49" stroke="#1a1a1a" stroke-width="0.7" />
<line x1="192.38" y1="306.15" x2="195.82" y2="307.22" stroke="#1a1a1a" stroke-width="0.7" />
<line x1="193.00" y1="292.68" x2="196.43" y2="293.75" stroke="#1a1a1a" stroke-width="0.7" />
<line x1="35.20" y1="376.50" x2="37.00" y2="378.50" stroke="#c1def1" stroke-width="4.3" stroke-linecap="round"/>
<line x1="37.00" y1="378.50" x2="38.90" y2="380.10" stroke="#c6e0f2" stroke-width="4.3" stroke-linecap="round"/>
<line x1="38.90" y1="380.10" x2="39.80" y2="378.30" stroke="#c3dff1" stroke-width="4.3" stroke-linecap="round"/>
<line x1="39.80" y1="378.30" x2="40.70" y2="376.50" stroke="#bbdcf0" stroke-width="4.3" stroke-linecap="round"/>
<line x1="40.70" y1="376.50" x2="41.60" y2="374.65" stroke="#b3d8ee" stroke-width="4.3" stroke-linecap="round"/>
<line x1="41.60" y1="374.65" x2="42.50" y2="372.80" stroke="#acd5ed" stroke-width="4.3" stroke-linecap="round"/>
<line x1="42.50" y1="372.80" x2="43.40" y2="371.45" stroke="#a6d3ec" stroke-width="4.3" stroke-linecap="round"/>
<line x1="43.40" y1="371.45" x2="44.30" y2="370.10" stroke="#a1d1eb" stroke-width="4.3" stroke-linecap="round"/>
<line x1="44.30" y1="370.10" x2="45.20" y2="368.75" stroke="#9ccfeb" stroke-width="4.3" stroke-linecap="round"/>
<line x1="45.20" y1="368.75" x2="46.10" y2="367.40" stroke="#97cdea" stroke-width="4.3" stroke-linecap="round"/>
<line x1="46.10" y1="367.40" x2="47.63" y2="366.47" stroke="#94cbe9" stroke-width="4.3" stroke-linecap="round"/>
<line x1="47.63" y1="366.47" x2="49.17" y2="365.53" stroke="#92cbe9" stroke-width="4.3" stroke-linecap="round"/>
<line x1="49.17" y1="365.53" x2="50.70" y2="364.60" stroke="#91cae9" stroke-width="4.3" stroke-linecap="round"/>
<line x1="50.70" y1="364.60" x2="51.37" y2="366.20" stroke="#94cbe9" stroke-width="4.3" stroke-linecap="round"/>
<line x1="51.37" y1="366.20" x2="52.05" y2="367.80" stroke="#9bceeb" stroke-width="4.3" stroke-linecap="round"/>
<line x1="52.05" y1="367.80" x2="52.72" y2="369.40" stroke="#a3d2ec" stroke-width="4.3" stroke-linecap="round"/>
<line x1="52.72" y1="369.40" x2="53.40" y2="371.00" stroke="#abd5ed" stroke-width="4.3" stroke-linecap="round"/>
<line x1="53.40" y1="371.00" x2="54.32" y2="372.60" stroke="#b3d8ee" stroke-width="4.3" stroke-linecap="round"/>
<line x1="54.32" y1="372.60" x2="55.25" y2="374.20" stroke="#bbdbf0" stroke-width="4.3" stroke-linecap="round"/>
<line x1="55.25" y1="374.20" x2="56.18" y2="375.80" stroke="#c3dff1" stroke-width="4.3" stroke-linecap="round"/>
<line x1="56.18" y1="375.80" x2="57.10" y2="377.40" stroke="#cae2f3" stroke-width="4.3" stroke-linecap="round"/>
<line x1="57.10" y1="377.40" x2="58.00" y2="375.80" stroke="#cae2f3" stroke-width="4.3" stroke-linecap="round"/>
<line x1="58.00" y1="375.80" x2="58.90" y2="374.20" stroke="#c5e0f1" stroke-width="4.3" stroke-linecap="round"/>
<line x1="58.90" y1="374.20" x2="59.80" y2="372.60" stroke="#beddf0" stroke-width="4.3" stroke-linecap="round"/>
<line x1="59.80" y1="372.60" x2="60.70" y2="371.00" stroke="#b7daef" stroke-width="4.3" stroke-linecap="round"/>
<line x1="60.70" y1="371.00" x2="62.07" y2="370.32" stroke="#b1d7ee" stroke-width="4.3" stroke-linecap="round"/>
<line x1="62.07" y1="370.32" x2="63.45" y2="369.65" stroke="#afd6ee" stroke-width="4.3" stroke-linecap="round"/>
<line x1="63.45" y1="369.65" x2="64.82" y2="368.98" stroke="#add6ed" stroke-width="4.3" stroke-linecap="round"/>
<line x1="64.82" y1="368.98" x2="66.20" y2="368.30" stroke="#aad4ed" stroke-width="4.3" stroke-linecap="round"/>
<line x1="66.20" y1="368.30" x2="68.00" y2="367.70" stroke="#a7d3ed" stroke-width="4.3" stroke-linecap="round"/>
<line x1="68.00" y1="367.70" x2="69.80" y2="367.10" stroke="#a3d2ec" stroke-width="4.3" stroke-linecap="round"/>
<line x1="69.80" y1="367.10" x2="71.60" y2="366.50" stroke="#a2d1ec" stroke-width="4.3" stroke-linecap="round"/>
<line x1="71.60" y1="366.50" x2="73.45" y2="366.05" stroke="#a0d0eb" stroke-width="4.3" stroke-linecap="round"/>
<line x1="73.45" y1="366.05" x2="75.30" y2="365.60" stroke="#9fd0eb" stroke-width="4.3" stroke-linecap="round"/>
<line x1="75.30" y1="365.60" x2="75.84" y2="367.24" stroke="#a3d2ec" stroke-width="4.3" stroke-linecap="round"/>
<line x1="75.84" y1="367.24" x2="76.38" y2="368.88" stroke="#abd5ed" stroke-width="4.3" stroke-linecap="round"/>
<line x1="76.38" y1="368.88" x2="76.92" y2="370.52" stroke="#b3d8ee" stroke-width="4.3" stroke-linecap="round"/>
<line x1="76.92" y1="370.52" x2="77.46" y2="372.16" stroke="#bbdbf0" stroke-width="4.3" stroke-linecap="round"/>
<line x1="77.46" y1="372.16" x2="78.00" y2="373.80" stroke="#c2dff1" stroke-width="4.3" stroke-linecap="round"/>
<line x1="78.00" y1="373.80" x2="79.23" y2="372.27" stroke="#c4dff1" stroke-width="4.3" stroke-linecap="round"/>
<line x1="79.23" y1="372.27" x2="80.47" y2="370.73" stroke="#c0def1" stroke-width="4.3" stroke-linecap="round"/>
<line x1="80.47" y1="370.73" x2="81.70" y2="369.20" stroke="#bbdcf0" stroke-width="4.3" stroke-linecap="round"/>
<line x1="81.70" y1="369.20" x2="82.42" y2="367.56" stroke="#b6d9ef" stroke-width="4.3" stroke-linecap="round"/>
<line x1="82.42" y1="367.56" x2="83.14" y2="365.92" stroke="#b0d7ee" stroke-width="4.3" stroke-linecap="round"/>
<line x1="83.14" y1="365.92" x2="83.86" y2="364.28" stroke="#aad4ed" stroke-width="4.3" stroke-linecap="round"/>
<line x1="83.86" y1="364.28" x2="84.58" y2="362.64" stroke="#a3d2ec" stroke-width="4.3" stroke-linecap="round"/>
<line x1="84.58" y1="362.64" x2="85.30" y2="361.00" stroke="#9dcfeb" stroke-width="4.3" stroke-linecap="round"/>
<line x1="85.30" y1="361.00" x2="85.56" y2="359.44" stroke="#97ccea" stroke-width="4.3" stroke-linecap="round"/>
<line x1="85.56" y1="359.44" x2="85.81" y2="357.89" stroke="#90cae9" stroke-width="4.3" stroke-linecap="round"/>
<line x1="85.81" y1="357.89" x2="86.07" y2="356.33" stroke="#88c7e7" stroke-width="4.3" stroke-linecap="round"/>
<line x1="86.07" y1="356.33" x2="86.33" y2="354.77" stroke="#7ec2e5" stroke-width="4.3" stroke-linecap="round"/>
<line x1="86.33" y1="354.77" x2="86.59" y2="353.21" stroke="#74bee3" stroke-width="4.3" stroke-linecap="round"/>
<line x1="86.59" y1="353.21" x2="86.84" y2="351.66" stroke="#69b9e0" stroke-width="4.3" stroke-linecap="round"/>
<line x1="86.84" y1="351.66" x2="87.10" y2="350.10" stroke="#5fb5de" stroke-width="4.3" stroke-linecap="round"/>
<line x1="87.10" y1="350.10" x2="87.26" y2="348.50" stroke="#54b0dc" stroke-width="4.3" stroke-linecap="round"/>
<line x1="87.26" y1="348.50" x2="87.43" y2="346.90" stroke="#49acd9" stroke-width="4.3" stroke-linecap="round"/>
<line x1="87.43" y1="346.90" x2="87.59" y2="345.30" stroke="#3ea7d7" stroke-width="4.3" stroke-linecap="round"/>
<line x1="87.59" y1="345.30" x2="87.75" y2="343.70" stroke="#33a2d5" stroke-width="4.3" stroke-linecap="round"/>
<line x1="87.75" y1="343.70" x2="87.91" y2="342.10" stroke="#2a9ed2" stroke-width="4.3" stroke-linecap="round"/>
<line x1="87.91" y1="342.10" x2="88.07" y2="340.50" stroke="#289ad0" stroke-width="4.3" stroke-linecap="round"/>
<line x1="88.07" y1="340.50" x2="88.24" y2="338.90" stroke="#2595ce" stroke-width="4.3" stroke-linecap="round"/>
<line x1="88.24" y1="338.90" x2="88.40" y2="337.30" stroke="#2391cb" stroke-width="4.3" stroke-linecap="round"/>
<circle cx="88.60" cy="333.50" r="1.8" fill="#1b84c5"/>
<circle cx="88.80" cy="329.50" r="1.8" fill="#1579bf"/>
<circle cx="88.90" cy="325.20" r="1.8" fill="#126eb6"/>
<circle cx="89.00" cy="320.60" r="1.8" fill="#0f62ac"/>
<circle cx="89.20" cy="316.20" r="1.8" fill="#0c57a2"/>
<circle cx="89.40" cy="311.50" r="1.8" fill="#0a4b93"/>
<circle cx="89.50" cy="307.50" r="1.8" fill="#094184"/>
<circle cx="89.70" cy="303.50" r="1.8" fill="#093776"/>
<circle cx="89.80" cy="300.50" r="1.8" fill="#08306b"/>
<circle cx="89.90" cy="298.50" r="1.8" fill="#08306b"/>
<circle cx="89.97" cy="296.90" r="1.8" fill="#08306b"/>
<circle cx="90.04" cy="295.30" r="1.8" fill="#08306b"/>
<circle cx="90.12" cy="293.70" r="1.8" fill="#08306b"/>
<circle cx="90.19" cy="292.10" r="1.8" fill="#08306b"/>
<circle cx="90.26" cy="290.50" r="1.8" fill="#08306b"/>
<circle cx="90.33" cy="288.90" r="1.8" fill="#08306b"/>
<circle cx="90.40" cy="287.30" r="1.8" fill="#08306b"/>
<circle cx="90.48" cy="285.70" r="1.8" fill="#08306b"/>
<circle cx="90.55" cy="284.10" r="1.8" fill="#08306b"/>
<circle cx="90.62" cy="282.50" r="1.8" fill="#08306b"/>
<circle cx="90.69" cy="280.90" r="1.8" fill="#08306b"/>
<circle cx="90.76" cy="279.30" r="1.8" fill="#08306b"/>
<circle cx="90.84" cy="277.70" r="1.8" fill="#08306b"/>
<circle cx="90.91" cy="276.10" r="1.8" fill="#08306b"/>
<circle cx="90.98" cy="274.50" r="1.8" fill="#08306b"/>
<circle cx="91.05" cy="272.90" r="1.8" fill="#08306b"/>
<circle cx="91.30" cy="271.00" r="1.8" fill="#08306b"/>
<circle cx="92.00" cy="271.80" r="1.8" fill="#08306b"/>
<circle cx="92.60" cy="274.50" r="1.8" fill="#08306b"/>
<circle cx="93.00" cy="278.00" r="1.8" fill="#08306b"/>
<circle cx="93.40" cy="281.50" r="1.8" fill="#08306b"/>
<circle cx="93.80" cy="278.00" r="1.8" fill="#08306b"/>
<circle cx="94.20" cy="274.50" r="1.8" fill="#08306b"/>
<circle cx="94.70" cy="271.50" r="1.8" fill="#08306b"/>
<circle cx="95.20" cy="269.60" r="1.8" fill="#08306b"/>
<circle cx="95.60" cy="269.00" r="1.8" fill="#08306b"/>
<line x1="95.60" y1="268.90" x2="95.78" y2="270.42" stroke="#08306b" stroke-width="4.1" stroke-linecap="round"/>
<line x1="95.78" y1="270.42" x2="95.95" y2="271.95" stroke="#08306b" stroke-width="4.1" stroke-linecap="round"/>
<line x1="95.95" y1="271.95" x2="96.13" y2="273.48" stroke="#08306b" stroke-width="4.1" stroke-linecap="round"/>
<line x1="96.13" y1="273.48" x2="96.30" y2="275.00" stroke="#08306b" stroke-width="4.1" stroke-linecap="round"/>
<line x1="96.30" y1="275.00" x2="96.41" y2="276.50" stroke="#08306b" stroke-width="4.1" stroke-linecap="round"/>
<line x1="96.41" y1="276.50" x2="96.53" y2="278.00" stroke="#08306b" stroke-width="4.1" stroke-linecap="round"/>
<line x1="96.53" y1="278.00" x2="96.64" y2="279.50" stroke="#08306b" stroke-width="4.1" stroke-linecap="round"/>
<line x1="96.64" y1="279.50" x2="96.75" y2="281.00" stroke="#08306b" stroke-width="4.1" stroke-linecap="round"/>
<line x1="96.75" y1="281.00" x2="96.86" y2="282.50" stroke="#08306b" stroke-width="4.1" stroke-linecap="round"/>
<line x1="96.86" y1="282.50" x2="96.97" y2="284.00" stroke="#08306b" stroke-width="4.1" stroke-linecap="round"/>
<line x1="96.97" y1="284.00" x2="97.09" y2="285.50" stroke="#08306b" stroke-width="4.1" stroke-linecap="round"/>
<line x1="97.09" y1="285.50" x2="97.20" y2="287.00" stroke="#08306b" stroke-width="4.1" stroke-linecap="round"/>
<line x1="97.20" y1="287.00" x2="97.32" y2="288.62" stroke="#08306b" stroke-width="4.1" stroke-linecap="round"/>
<line x1="97.32" y1="288.62" x2="97.45" y2="290.25" stroke="#08306b" stroke-width="4.1" stroke-linecap="round"/>
<line x1="97.45" y1="290.25" x2="97.57" y2="291.88" stroke="#08306b" stroke-width="4.1" stroke-linecap="round"/>
<line x1="97.57" y1="291.88" x2="97.70" y2="293.50" stroke="#08306b" stroke-width="4.1" stroke-linecap="round"/>
<line x1="97.70" y1="293.50" x2="97.82" y2="295.12" stroke="#08306b" stroke-width="4.1" stroke-linecap="round"/>
<line x1="97.82" y1="295.12" x2="97.95" y2="296.75" stroke="#08306b" stroke-width="4.1" stroke-linecap="round"/>
<line x1="97.95" y1="296.75" x2="98.07" y2="298.38" stroke="#08306b" stroke-width="4.1" stroke-linecap="round"/>
<line x1="98.07" y1="298.38" x2="98.20" y2="300.00" stroke="#08306b" stroke-width="4.1" stroke-linecap="round"/>
<line x1="98.20" y1="300.00" x2="98.37" y2="301.55" stroke="#08306b" stroke-width="4.1" stroke-linecap="round"/>
<line x1="98.37" y1="301.55" x2="98.54" y2="303.10" stroke="#08326f" stroke-width="4.1" stroke-linecap="round"/>
<line x1="98.54" y1="303.10" x2="98.71" y2="304.65" stroke="#093674" stroke-width="4.1" stroke-linecap="round"/>
<line x1="98.71" y1="304.65" x2="98.88" y2="306.20" stroke="#093a7a" stroke-width="4.1" stroke-linecap="round"/>
<line x1="98.88" y1="306.20" x2="99.05" y2="307.75" stroke="#093e80" stroke-width="4.1" stroke-linecap="round"/>
<line x1="99.05" y1="307.75" x2="99.22" y2="309.30" stroke="#0a4285" stroke-width="4.1" stroke-linecap="round"/>
<line x1="99.22" y1="309.30" x2="99.39" y2="310.85" stroke="#0a468b" stroke-width="4.1" stroke-linecap="round"/>
<line x1="99.39" y1="310.85" x2="99.56" y2="312.40" stroke="#0a4991" stroke-width="4.1" stroke-linecap="round"/>
<line x1="99.56" y1="312.40" x2="99.73" y2="313.95" stroke="#0b4d97" stroke-width="4.1" stroke-linecap="round"/>
<line x1="99.73" y1="313.95" x2="99.90" y2="315.50" stroke="#0b519c" stroke-width="4.1" stroke-linecap="round"/>
<line x1="99.90" y1="315.50" x2="100.03" y2="317.06" stroke="#0c55a1" stroke-width="4.1" stroke-linecap="round"/>
<line x1="100.03" y1="317.06" x2="100.16" y2="318.61" stroke="#0d59a4" stroke-width="4.1" stroke-linecap="round"/>
<line x1="100.16" y1="318.61" x2="100.29" y2="320.17" stroke="#0e5da8" stroke-width="4.1" stroke-linecap="round"/>
<line x1="100.29" y1="320.17" x2="100.41" y2="321.73" stroke="#0e61ab" stroke-width="4.1" stroke-linecap="round"/>
<line x1="100.41" y1="321.73" x2="100.54" y2="323.29" stroke="#0f65ae" stroke-width="4.1" stroke-linecap="round"/>
<line x1="100.54" y1="323.29" x2="100.67" y2="324.84" stroke="#106ab2" stroke-width="4.1" stroke-linecap="round"/>
<line x1="100.67" y1="324.84" x2="100.80" y2="326.40" stroke="#116eb5" stroke-width="4.1" stroke-linecap="round"/>
<line x1="100.80" y1="326.40" x2="100.93" y2="327.96" stroke="#1272b9" stroke-width="4.1" stroke-linecap="round"/>
<line x1="100.93" y1="327.96" x2="101.06" y2="329.51" stroke="#1376bc" stroke-width="4.1" stroke-linecap="round"/>
<line x1="101.06" y1="329.51" x2="101.19" y2="331.07" stroke="#157abf" stroke-width="4.1" stroke-linecap="round"/>
<line x1="101.19" y1="331.07" x2="101.31" y2="332.63" stroke="#187ec1" stroke-width="4.1" stroke-linecap="round"/>
<line x1="101.31" y1="332.63" x2="101.44" y2="334.19" stroke="#1a83c4" stroke-width="4.1" stroke-linecap="round"/>
<line x1="101.44" y1="334.19" x2="101.57" y2="335.74" stroke="#1d87c6" stroke-width="4.1" stroke-linecap="round"/>
<line x1="101.57" y1="335.74" x2="101.70" y2="337.30" stroke="#1f8bc8" stroke-width="4.1" stroke-linecap="round"/>
<line x1="101.70" y1="337.30" x2="101.84" y2="338.85" stroke="#228fcb" stroke-width="4.1" stroke-linecap="round"/>
<line x1="101.84" y1="338.85" x2="101.98" y2="340.39" stroke="#2494cd" stroke-width="4.1" stroke-linecap="round"/>
<line x1="101.98" y1="340.39" x2="102.12" y2="341.94" stroke="#2798cf" stroke-width="4.1" stroke-linecap="round"/>
<line x1="102.12" y1="341.94" x2="102.25" y2="343.48" stroke="#299cd1" stroke-width="4.1" stroke-linecap="round"/>
<line x1="102.25" y1="343.48" x2="102.39" y2="345.03" stroke="#2ea0d4" stroke-width="4.1" stroke-linecap="round"/>
<line x1="102.39" y1="345.03" x2="102.53" y2="346.58" stroke="#39a5d6" stroke-width="4.1" stroke-linecap="round"/>
<line x1="102.53" y1="346.58" x2="102.67" y2="348.12" stroke="#44a9d8" stroke-width="4.1" stroke-linecap="round"/>
<line x1="102.67" y1="348.12" x2="102.81" y2="349.67" stroke="#4eaedb" stroke-width="4.1" stroke-linecap="round"/>
<line x1="102.81" y1="349.67" x2="102.95" y2="351.22" stroke="#59b2dd" stroke-width="4.1" stroke-linecap="round"/>
<line x1="102.95" y1="351.22" x2="103.08" y2="352.76" stroke="#63b7df" stroke-width="4.1" stroke-linecap="round"/>
<line x1="103.08" y1="352.76" x2="103.22" y2="354.31" stroke="#6ebbe1" stroke-width="4.1" stroke-linecap="round"/>
<line x1="103.22" y1="354.31" x2="103.36" y2="355.85" stroke="#78c0e4" stroke-width="4.1" stroke-linecap="round"/>
<line x1="103.36" y1="355.85" x2="103.50" y2="357.40" stroke="#83c4e6" stroke-width="4.1" stroke-linecap="round"/>
<line x1="103.50" y1="357.40" x2="103.66" y2="358.91" stroke="#8dc8e8" stroke-width="4.1" stroke-linecap="round"/>
<line x1="103.66" y1="358.91" x2="103.81" y2="360.43" stroke="#93cbe9" stroke-width="4.1" stroke-linecap="round"/>
<line x1="103.81" y1="360.43" x2="103.97" y2="361.94" stroke="#9aceea" stroke-width="4.1" stroke-linecap="round"/>
<line x1="103.97" y1="361.94" x2="104.13" y2="363.46" stroke="#a0d0eb" stroke-width="4.1" stroke-linecap="round"/>
<line x1="104.13" y1="363.46" x2="104.29" y2="364.97" stroke="#a7d3ec" stroke-width="4.1" stroke-linecap="round"/>
<line x1="104.29" y1="364.97" x2="104.44" y2="366.49" stroke="#add6ed" stroke-width="4.1" stroke-linecap="round"/>
<line x1="104.44" y1="366.49" x2="104.60" y2="368.00" stroke="#b3d8ef" stroke-width="4.1" stroke-linecap="round"/>
<line x1="104.60" y1="368.00" x2="104.95" y2="369.95" stroke="#bbdbf0" stroke-width="4.1" stroke-linecap="round"/>
<line x1="104.95" y1="369.95" x2="105.30" y2="371.90" stroke="#c3dff1" stroke-width="4.1" stroke-linecap="round"/>
<line x1="105.30" y1="371.90" x2="105.60" y2="370.42" stroke="#c4dff1" stroke-width="4.1" stroke-linecap="round"/>
<line x1="105.60" y1="370.42" x2="105.90" y2="368.95" stroke="#beddf0" stroke-width="4.1" stroke-linecap="round"/>
<line x1="105.90" y1="368.95" x2="106.20" y2="367.48" stroke="#b7daef" stroke-width="4.1" stroke-linecap="round"/>
<line x1="106.20" y1="367.48" x2="106.50" y2="366.00" stroke="#b1d7ee" stroke-width="4.1" stroke-linecap="round"/>
<line x1="106.50" y1="366.00" x2="106.70" y2="364.50" stroke="#abd5ed" stroke-width="4.1" stroke-linecap="round"/>
<line x1="106.70" y1="364.50" x2="106.90" y2="363.00" stroke="#a4d2ec" stroke-width="4.1" stroke-linecap="round"/>
<line x1="106.90" y1="363.00" x2="107.10" y2="361.50" stroke="#9ecfeb" stroke-width="4.1" stroke-linecap="round"/>
<line x1="107.10" y1="361.50" x2="107.30" y2="360.00" stroke="#98cdea" stroke-width="4.1" stroke-linecap="round"/>
<line x1="107.30" y1="360.00" x2="107.50" y2="358.50" stroke="#91cae9" stroke-width="4.1" stroke-linecap="round"/>
<line x1="107.50" y1="358.50" x2="107.70" y2="357.00" stroke="#8ac7e8" stroke-width="4.1" stroke-linecap="round"/>
<line x1="107.70" y1="357.00" x2="107.90" y2="355.50" stroke="#80c3e5" stroke-width="4.1" stroke-linecap="round"/>
<line x1="107.90" y1="355.50" x2="108.06" y2="354.00" stroke="#75bee3" stroke-width="4.1" stroke-linecap="round"/>
<line x1="108.06" y1="354.00" x2="108.21" y2="352.50" stroke="#6bbae1" stroke-width="4.1" stroke-linecap="round"/>
<line x1="108.21" y1="352.50" x2="108.37" y2="351.00" stroke="#61b6df" stroke-width="4.1" stroke-linecap="round"/>
<line x1="108.37" y1="351.00" x2="108.53" y2="349.50" stroke="#57b1dc" stroke-width="4.1" stroke-linecap="round"/>
<line x1="108.53" y1="349.50" x2="108.69" y2="348.00" stroke="#4cadda" stroke-width="4.1" stroke-linecap="round"/>
<line x1="108.69" y1="348.00" x2="108.84" y2="346.50" stroke="#42a9d8" stroke-width="4.1" stroke-linecap="round"/>
<line x1="108.84" y1="346.50" x2="109.00" y2="345.00" stroke="#37a4d6" stroke-width="4.1" stroke-linecap="round"/>
<line x1="109.00" y1="345.00" x2="109.16" y2="343.46" stroke="#2ca0d3" stroke-width="4.1" stroke-linecap="round"/>
<line x1="109.16" y1="343.46" x2="109.32" y2="341.92" stroke="#299bd1" stroke-width="4.1" stroke-linecap="round"/>
<line x1="109.32" y1="341.92" x2="109.48" y2="340.38" stroke="#2697cf" stroke-width="4.1" stroke-linecap="round"/>
<line x1="109.48" y1="340.38" x2="109.64" y2="338.84" stroke="#2492cc" stroke-width="4.1" stroke-linecap="round"/>
<line x1="109.64" y1="338.84" x2="109.80" y2="337.30" stroke="#218eca" stroke-width="4.1" stroke-linecap="round"/>
<line x1="109.80" y1="337.30" x2="110.25" y2="339.15" stroke="#218eca" stroke-width="4.1" stroke-linecap="round"/>
<line x1="110.25" y1="339.15" x2="110.70" y2="341.00" stroke="#2493cc" stroke-width="4.1" stroke-linecap="round"/>
<line x1="110.70" y1="341.00" x2="111.00" y2="342.80" stroke="#2697cf" stroke-width="4.1" stroke-linecap="round"/>
<line x1="111.00" y1="342.80" x2="111.30" y2="344.60" stroke="#299cd2" stroke-width="4.1" stroke-linecap="round"/>
<line x1="111.30" y1="344.60" x2="111.60" y2="346.40" stroke="#30a1d4" stroke-width="4.1" stroke-linecap="round"/>
<line x1="111.60" y1="346.40" x2="111.86" y2="347.97" stroke="#3ca6d7" stroke-width="4.1" stroke-linecap="round"/>
<line x1="111.86" y1="347.97" x2="112.11" y2="349.54" stroke="#47abd9" stroke-width="4.1" stroke-linecap="round"/>
<line x1="112.11" y1="349.54" x2="112.37" y2="351.11" stroke="#52afdb" stroke-width="4.1" stroke-linecap="round"/>
<line x1="112.37" y1="351.11" x2="112.63" y2="352.69" stroke="#5cb4de" stroke-width="4.1" stroke-linecap="round"/>
<line x1="112.63" y1="352.69" x2="112.89" y2="354.26" stroke="#67b8e0" stroke-width="4.1" stroke-linecap="round"/>
<line x1="112.89" y1="354.26" x2="113.14" y2="355.83" stroke="#72bde2" stroke-width="4.1" stroke-linecap="round"/>
<line x1="113.14" y1="355.83" x2="113.40" y2="357.40" stroke="#7dc1e5" stroke-width="4.1" stroke-linecap="round"/>
<line x1="113.40" y1="357.40" x2="114.60" y2="358.90" stroke="#87c6e7" stroke-width="4.1" stroke-linecap="round"/>
<line x1="114.60" y1="358.90" x2="115.80" y2="360.40" stroke="#90cae9" stroke-width="4.1" stroke-linecap="round"/>
<line x1="115.80" y1="360.40" x2="117.00" y2="361.90" stroke="#96ccea" stroke-width="4.1" stroke-linecap="round"/>
<line x1="117.00" y1="361.90" x2="118.83" y2="362.50" stroke="#9bceeb" stroke-width="4.1" stroke-linecap="round"/>
<line x1="118.83" y1="362.50" x2="120.67" y2="363.10" stroke="#9fd0eb" stroke-width="4.1" stroke-linecap="round"/>
<line x1="120.67" y1="363.10" x2="122.50" y2="363.70" stroke="#a3d2ec" stroke-width="4.1" stroke-linecap="round"/>
<line x1="122.50" y1="363.70" x2="124.03" y2="362.50" stroke="#a4d2ec" stroke-width="4.1" stroke-linecap="round"/>
<line x1="124.03" y1="362.50" x2="125.57" y2="361.30" stroke="#b1d7ee" stroke-width="4.1" stroke-linecap="round"/>
<line x1="125.57" y1="361.30" x2="127.10" y2="360.10" stroke="#b0d7ee" stroke-width="4.1" stroke-linecap="round"/>
<line x1="127.10" y1="360.10" x2="128.45" y2="359.43" stroke="#afd7ee" stroke-width="4.1" stroke-linecap="round"/>
<line x1="128.45" y1="359.43" x2="129.80" y2="358.75" stroke="#afd7ee" stroke-width="4.1" stroke-linecap="round"/>
<line x1="129.80" y1="358.75" x2="131.15" y2="358.07" stroke="#afd7ee" stroke-width="4.1" stroke-linecap="round"/>
<line x1="131.15" y1="358.07" x2="132.50" y2="357.40" stroke="#afd7ee" stroke-width="4.1" stroke-linecap="round"/>
<line x1="132.50" y1="357.40" x2="133.73" y2="358.60" stroke="#b2d8ee" stroke-width="4.1" stroke-linecap="round"/>
<line x1="133.73" y1="358.60" x2="134.97" y2="359.80" stroke="#b4d9ef" stroke-width="4.1" stroke-linecap="round"/>
<line x1="134.97" y1="359.80" x2="136.20" y2="361.00" stroke="#b4d9ef" stroke-width="4.1" stroke-linecap="round"/>
<line x1="136.20" y1="361.00" x2="137.32" y2="362.15" stroke="#b5d9ef" stroke-width="4.1" stroke-linecap="round"/>
<line x1="137.32" y1="362.15" x2="138.45" y2="363.30" stroke="#b9dbef" stroke-width="4.1" stroke-linecap="round"/>
<line x1="138.45" y1="363.30" x2="139.57" y2="364.45" stroke="#beddf0" stroke-width="4.1" stroke-linecap="round"/>
<line x1="139.57" y1="364.45" x2="140.70" y2="365.60" stroke="#c2dff1" stroke-width="4.1" stroke-linecap="round"/>
<line x1="140.70" y1="365.60" x2="142.53" y2="365.60" stroke="#c3dff1" stroke-width="4.1" stroke-linecap="round"/>
<line x1="142.53" y1="365.60" x2="144.37" y2="365.60" stroke="#c0def1" stroke-width="4.1" stroke-linecap="round"/>
<line x1="144.37" y1="365.60" x2="146.20" y2="365.60" stroke="#c1def1" stroke-width="4.1" stroke-linecap="round"/>
<line x1="146.20" y1="365.60" x2="147.55" y2="364.90" stroke="#c0def1" stroke-width="4.1" stroke-linecap="round"/>
<line x1="147.55" y1="364.90" x2="148.90" y2="364.20" stroke="#bddcf0" stroke-width="4.1" stroke-linecap="round"/>
<line x1="148.90" y1="364.20" x2="150.25" y2="363.50" stroke="#badbf0" stroke-width="4.1" stroke-linecap="round"/>
<line x1="150.25" y1="363.50" x2="151.60" y2="362.80" stroke="#b7daef" stroke-width="4.1" stroke-linecap="round"/>
<line x1="151.60" y1="362.80" x2="153.06" y2="361.90" stroke="#b3d8ef" stroke-width="4.1" stroke-linecap="round"/>
<line x1="153.06" y1="361.90" x2="154.52" y2="361.00" stroke="#b0d7ee" stroke-width="4.1" stroke-linecap="round"/>
<line x1="154.52" y1="361.00" x2="155.98" y2="360.10" stroke="#acd5ed" stroke-width="4.1" stroke-linecap="round"/>
<line x1="155.98" y1="360.10" x2="157.44" y2="359.20" stroke="#a9d4ed" stroke-width="4.1" stroke-linecap="round"/>
<line x1="157.44" y1="359.20" x2="158.90" y2="358.30" stroke="#a5d3ec" stroke-width="4.1" stroke-linecap="round"/>
<line x1="158.90" y1="358.30" x2="160.36" y2="357.38" stroke="#a3d2ec" stroke-width="4.1" stroke-linecap="round"/>
<line x1="160.36" y1="357.38" x2="161.82" y2="356.46" stroke="#a1d1eb" stroke-width="4.1" stroke-linecap="round"/>
<line x1="161.82" y1="356.46" x2="163.28" y2="355.54" stroke="#9ed0eb" stroke-width="4.1" stroke-linecap="round"/>
<line x1="163.28" y1="355.54" x2="164.74" y2="354.62" stroke="#9dcfeb" stroke-width="4.1" stroke-linecap="round"/>
<line x1="164.74" y1="354.62" x2="166.20" y2="353.70" stroke="#9ccfeb" stroke-width="4.1" stroke-linecap="round"/>
<line x1="166.20" y1="353.70" x2="167.66" y2="353.34" stroke="#9ccfeb" stroke-width="4.1" stroke-linecap="round"/>
<line x1="167.66" y1="353.34" x2="169.12" y2="352.98" stroke="#9dcfeb" stroke-width="4.1" stroke-linecap="round"/>
<line x1="169.12" y1="352.98" x2="170.58" y2="352.62" stroke="#9ed0eb" stroke-width="4.1" stroke-linecap="round"/>
<line x1="170.58" y1="352.62" x2="172.04" y2="352.26" stroke="#9fd0eb" stroke-width="4.1" stroke-linecap="round"/>
<line x1="172.04" y1="352.26" x2="173.50" y2="351.90" stroke="#a0d0eb" stroke-width="4.1" stroke-linecap="round"/>
<line x1="173.50" y1="351.90" x2="175.10" y2="351.45" stroke="#9fd0eb" stroke-width="4.1" stroke-linecap="round"/>
<line x1="175.10" y1="351.45" x2="176.70" y2="351.00" stroke="#9ed0eb" stroke-width="4.1" stroke-linecap="round"/>
<line x1="176.70" y1="351.00" x2="178.30" y2="350.55" stroke="#9ecfeb" stroke-width="4.1" stroke-linecap="round"/>
<line x1="178.30" y1="350.55" x2="179.90" y2="350.10" stroke="#9ecfeb" stroke-width="4.1" stroke-linecap="round"/>
<line x1="179.90" y1="350.10" x2="181.70" y2="349.50" stroke="#9dcfeb" stroke-width="4.1" stroke-linecap="round"/>
<line x1="181.70" y1="349.50" x2="183.50" y2="348.90" stroke="#9ed0eb" stroke-width="4.1" stroke-linecap="round"/>
<line x1="183.50" y1="348.90" x2="185.30" y2="348.30" stroke="#9ed0eb" stroke-width="4.1" stroke-linecap="round"/>
<text stroke-width="0.22" x="15.90" y="419.53" font-size="9" text-anchor="middle" >−84</text>
<text stroke-width="0.22" x="31.20" y="424.63" font-size="9" text-anchor="middle" >−82</text>
<text stroke-width="0.22" x="47.80" y="429.73" font-size="9" text-anchor="middle" >−80</text>
<text stroke-width="0.22" x="64.50" y="434.83" font-size="9" text-anchor="middle" >−78</text>
<text stroke-width="0.22" x="80.50" y="440.43" font-size="9" text-anchor="middle" >−76</text>
<text stroke-width="0.22" x="96.90" y="445.83" font-size="9" text-anchor="middle" >−74</text>
<text stroke-width="0.22" x="113.50" y="451.93" font-size="9" text-anchor="middle" >−72</text>
<text stroke-width="0.22" x="144.70" y="452.13" font-size="9" text-anchor="middle" >42</text>
<text stroke-width="0.22" x="156.70" y="439.33" font-size="9" text-anchor="middle" >43</text>
<text stroke-width="0.22" x="167.70" y="427.83" font-size="9" text-anchor="middle" >44</text>
<text stroke-width="0.22" x="179.20" y="415.63" font-size="9" text-anchor="middle" >45</text>
<text stroke-width="0.22" x="189.90" y="403.63" font-size="9" text-anchor="middle" >46</text>
<text stroke-width="0.22" x="200.20" y="392.63" font-size="9" text-anchor="middle" >47</text>
<text stroke-width="0.22" x="210.90" y="376.23" font-size="9" text-anchor="middle" >0.0</text>
<text stroke-width="0.22" x="210.90" y="362.93" font-size="9" text-anchor="middle" >0.1</text>
<text stroke-width="0.22" x="210.90" y="350.63" font-size="9" text-anchor="middle" >0.2</text>
<text stroke-width="0.22" x="210.90" y="337.83" font-size="9" text-anchor="middle" >0.3</text>
<text stroke-width="0.22" x="210.90" y="324.53" font-size="9" text-anchor="middle" >0.4</text>
<text stroke-width="0.22" x="210.90" y="311.83" font-size="9" text-anchor="middle" >0.5</text>
<text stroke-width="0.22" x="210.90" y="297.73" font-size="9" text-anchor="middle" >0.6</text>
<text stroke-width="0.22" x="60.00" y="449.00" font-size="9" text-anchor="middle" transform="rotate(19 60.00 449.00)" >Longitude</text>
<text stroke-width="0.22" x="187.90" y="430.10" font-size="9" text-anchor="middle" transform="rotate(-46 187.90 430.10)" >Latitude</text>
<text stroke-width="0.22" x="103.80" y="242.40" font-size="10.7" text-anchor="middle" >interpol-Deeplearning</text>
<rect x="218.90" y="247.70" width="10.10" height="197.90" fill="url(#cbg)" stroke="#222" stroke-width="0.75"/>
<line x1="229.00" y1="445.60" x2="231.50" y2="445.60" stroke="#111" stroke-width="0.7"/>
<text stroke-width="0.22" x="234.40" y="449.63" font-size="9" text-anchor="start" >0.0</text>
<line x1="229.00" y1="412.62" x2="231.50" y2="412.62" stroke="#111" stroke-width="0.7"/>
<text stroke-width="0.22" x="234.40" y="416.65" font-size="9" text-anchor="start" >0.1</text>
<line x1="229.00" y1="379.63" x2="231.50" y2="379.63" stroke="#111" stroke-width="0.7"/>
<text stroke-width="0.22" x="234.40" y="383.66" font-size="9" text-anchor="start" >0.2</text>
<line x1="229.00" y1="346.65" x2="231.50" y2="346.65" stroke="#111" stroke-width="0.7"/>
<text stroke-width="0.22" x="234.40" y="350.68" font-size="9" text-anchor="start" >0.3</text>
<line x1="229.00" y1="313.67" x2="231.50" y2="313.67" stroke="#111" stroke-width="0.7"/>
<text stroke-width="0.22" x="234.40" y="317.70" font-size="9" text-anchor="start" >0.4</text>
<line x1="229.00" y1="280.68" x2="231.50" y2="280.68" stroke="#111" stroke-width="0.7"/>
<text stroke-width="0.22" x="234.40" y="284.71" font-size="9" text-anchor="start" >0.5</text>
<line x1="229.00" y1="247.70" x2="231.50" y2="247.70" stroke="#111" stroke-width="0.7"/>
<text stroke-width="0.22" x="234.40" y="251.73" font-size="9" text-anchor="start" >0.6</text>
<text stroke-width="0.22" x="260.40" y="348.15" font-size="9" text-anchor="middle" transform="rotate(-90 260.40 348.15)" >soil moisture (kg/m2)</text>
</g>
<text x="133.8" y="214.2" font-size="12" letter-spacing="0.3" text-anchor="middle" fill="#111" font-family="Liberation Serif, DejaVu Serif, serif">(<tspan font-weight="bold">a</tspan>)</text>
<text x="416.8" y="214.2" font-size="12" letter-spacing="0.3" text-anchor="middle" fill="#111" font-family="Liberation Serif, DejaVu Serif, serif">(<tspan font-weight="bold">b</tspan>)</text>
<text x="133.9" y="483" font-size="12" letter-spacing="0.3" text-anchor="middle" fill="#111" font-family="Liberation Serif, DejaVu Serif, serif">(<tspan font-weight="bold">c</tspan>)</text>
<text x="416.8" y="483" font-size="12" letter-spacing="0.3" text-anchor="middle" fill="#111" font-family="Liberation Serif, DejaVu Serif, serif">(<tspan font-weight="bold">d</tspan>)</text>
</svg>
</body></html>
